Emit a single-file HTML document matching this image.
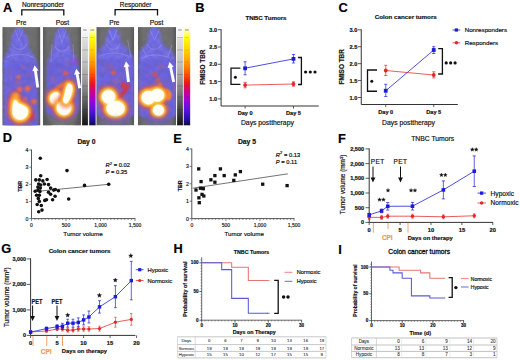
<!DOCTYPE html>
<html><head><meta charset="utf-8"><style>
html,body{margin:0;padding:0;background:#fff;width:520px;height:360px;overflow:hidden}
svg{display:block}
text{font-family:"Liberation Sans",sans-serif;stroke:currentColor;stroke-width:0.18px}
</style></head><body>
<svg width="520" height="360" viewBox="0 0 520 360">
<rect width="520" height="360" fill="#fff"/>
<defs>
<filter id="b3" x="-50%" y="-50%" width="200%" height="200%"><feGaussianBlur stdDeviation="3"/></filter>
<filter id="b2" x="-50%" y="-50%" width="200%" height="200%"><feGaussianBlur stdDeviation="2"/></filter>
<filter id="b15" x="-50%" y="-50%" width="200%" height="200%"><feGaussianBlur stdDeviation="1.5"/></filter>
<filter id="b1" x="-50%" y="-50%" width="200%" height="200%"><feGaussianBlur stdDeviation="1.0"/></filter>
<filter id="b07" x="-50%" y="-50%" width="200%" height="200%"><feGaussianBlur stdDeviation="0.7"/></filter>
<filter id="b05" x="-50%" y="-50%" width="200%" height="200%"><feGaussianBlur stdDeviation="0.5"/></filter>
<filter id="mott" x="0" y="0" width="520" height="360" filterUnits="userSpaceOnUse"><feTurbulence type="fractalNoise" baseFrequency="0.2" numOctaves="2" seed="7" result="n"/><feColorMatrix in="n" type="matrix" values="0 0 0 0 0  0 0 0 0 0  0 0 0 0 0  2.2 0 0 0 -0.55" result="na"/><feGaussianBlur in="SourceGraphic" stdDeviation="1.4" result="bl"/><feComposite in="bl" in2="na" operator="in"/></filter>
<filter id="mott2" x="0" y="0" width="520" height="360" filterUnits="userSpaceOnUse"><feTurbulence type="fractalNoise" baseFrequency="0.22" numOctaves="2" seed="21" result="n"/><feColorMatrix in="n" type="matrix" values="0 0 0 0 0  0 0 0 0 0  0 0 0 0 0  2.4 0 0 0 -0.8" result="na"/><feComposite in="SourceGraphic" in2="na" operator="in" result="c"/><feGaussianBlur in="c" stdDeviation="0.8"/></filter>
<filter id="mott3" x="0" y="0" width="520" height="360" filterUnits="userSpaceOnUse"><feTurbulence type="fractalNoise" baseFrequency="0.14" numOctaves="1" seed="11" result="n"/><feColorMatrix in="n" type="matrix" values="0 0 0 0 0  0 0 0 0 0  0 0 0 0 0  3.0 0 0 0 -1.7" result="na"/><feComposite in="SourceGraphic" in2="na" operator="in" result="c"/><feGaussianBlur in="c" stdDeviation="0.9"/></filter>
<linearGradient id="cbar" x1="0" y1="0" x2="0" y2="1">
<stop offset="0" stop-color="#ffffe8"/><stop offset="0.05" stop-color="#ffffa0"/><stop offset="0.1" stop-color="#ffff10"/><stop offset="0.22" stop-color="#ffd800"/>
<stop offset="0.35" stop-color="#ffa000"/><stop offset="0.47" stop-color="#ff5800"/><stop offset="0.56" stop-color="#f01818"/>
<stop offset="0.65" stop-color="#d00080"/><stop offset="0.74" stop-color="#a000d8"/><stop offset="0.84" stop-color="#6010e0"/>
<stop offset="0.93" stop-color="#2810a8"/><stop offset="1" stop-color="#100850"/></linearGradient>
<linearGradient id="gbar" x1="0" y1="0" x2="0" y2="1">
<stop offset="0" stop-color="#fafafa"/><stop offset="0.1" stop-color="#f0f0f0"/><stop offset="0.12" stop-color="#dedede"/><stop offset="0.35" stop-color="#c4c4c4"/>
<stop offset="0.6" stop-color="#8c8c8c"/><stop offset="0.8" stop-color="#505050"/><stop offset="1" stop-color="#141414"/></linearGradient>
<linearGradient id="petbg" x1="0" y1="0" x2="1" y2="0">
<stop offset="0" stop-color="#5e5e5e"/><stop offset="0.12" stop-color="#707070"/><stop offset="0.5" stop-color="#787878"/><stop offset="0.88" stop-color="#707070"/><stop offset="1" stop-color="#585858"/></linearGradient>
</defs>
<clipPath id="c0"><rect x="2.3" y="27.1" width="38.1" height="98.3"/></clipPath>
<clipPath id="c1"><rect x="42.9" y="27.1" width="38.35" height="98.3"/></clipPath>
<clipPath id="c2"><rect x="96.25" y="27.1" width="37.95" height="98.3"/></clipPath>
<clipPath id="c3"><rect x="137.9" y="27.1" width="38.35" height="98.3"/></clipPath>
<g clip-path="url(#c0)">
<rect x="2.3" y="27.1" width="38.1" height="98.3" fill="url(#petbg)"/>
<path d="M19,27 C15,28 12,34 11,42 C10,48 8,52 5,56 C3,60 3,66 4,70 L4,126 L37,126 L37,70 C37,64 36,58 33,55 C30,52 29,48 28,42 C27,34 23,28 19,27Z" fill="#6e66f6" opacity="0.88" filter="url(#b15)"/>
<path d="M6,64 C12,60 28,60 37,64 L37,126 L6,126Z" fill="#7468e4" opacity="0.7" filter="url(#b3)"/>
<path d="M19,27 C15,28 12,34 11,42 C10,48 8,52 5,56 C3,60 3,66 4,70 L4,126 L37,126 L37,70 C37,64 36,58 33,55 C30,52 29,48 28,42 C27,34 23,28 19,27Z" fill="#8c88ff" opacity="0.45" filter="url(#mott)"/>
<path d="M6,64 C12,60 28,60 37,64 L37,126 L6,126Z" fill="#5048d8" opacity="0.4" filter="url(#mott)"/>
<path d="M15,30 L19,40 L23,30 M12,44 C15,51 23,51 27,44 M6,58 C13,53 26,53 34,58" fill="none" stroke="#a8a6ff" stroke-width="1.1" opacity="0.4" filter="url(#b07)"/>
<path d="M6,64 C12,60 28,60 37,64 L37,126 L6,126Z" fill="#ff6a40" opacity="0.5" filter="url(#mott3)"/>
<rect x="0" y="27" width="200" height="100" fill="#505058" opacity="0.22" filter="url(#mott2)"/>
<circle cx="14" cy="95" r="2.6" fill="#ff9a30" opacity="0.7" filter="url(#b1)"/>
<circle cx="19.7" cy="89.6" r="2.6" fill="#ff6a30" opacity="0.9" filter="url(#b1)"/>
<circle cx="27.6" cy="88.6" r="2.8" fill="#ff6a30" opacity="0.9" filter="url(#b1)"/>
<circle cx="25.3" cy="99.2" r="1.9" fill="#ff6a40" opacity="0.8" filter="url(#b1)"/>
<circle cx="33.9" cy="101.5" r="2.6" fill="#ff6a30" opacity="0.9" filter="url(#b1)"/>
<circle cx="18.5" cy="77" r="2.2" fill="#ff6a30" opacity="0.8" filter="url(#b1)"/>
<circle cx="10" cy="90" r="2" fill="#c060a0" opacity="0.5" filter="url(#b1)"/>
<ellipse cx="31" cy="116" rx="3" ry="4" fill="#e02030" opacity="0.75" filter="url(#b1)"/>
<ellipse cx="15" cy="100" rx="6.300000000000001" ry="9.1" fill="#f05a28" opacity="0.75" transform="rotate(15 15 100)" filter="url(#b15)"/>
<ellipse cx="15" cy="100" rx="4.2" ry="7" fill="#ffc040" transform="rotate(15 15 100)" filter="url(#b1)"/>
<ellipse cx="15" cy="100" rx="2.1" ry="4.2" fill="#fff080" transform="rotate(15 15 100)" filter="url(#b07)"/>
<path d="M14,101 C15,99 17,101 18,103 C20,105 25,105 27.5,109 C29,113 27,118.5 21,119.5 C15,120 12.5,116 12.5,111 C12.5,107 13,103 14,101Z" fill="#e84a38" stroke="#e85038" stroke-width="11.25" opacity="0.55" filter="url(#b2)"/>
<path d="M14,101 C15,99 17,101 18,103 C20,105 25,105 27.5,109 C29,113 27,118.5 21,119.5 C15,120 12.5,116 12.5,111 C12.5,107 13,103 14,101Z" fill="#ff8a20" stroke="#ff9020" stroke-width="6.75" opacity="0.95" filter="url(#b15)"/>
<path d="M14,101 C15,99 17,101 18,103 C20,105 25,105 27.5,109 C29,113 27,118.5 21,119.5 C15,120 12.5,116 12.5,111 C12.5,107 13,103 14,101Z" fill="#ffd850" stroke="#ffd850" stroke-width="3.375" filter="url(#b1)"/>
<path d="M14,101 C15,99 17,101 18,103 C20,105 25,105 27.5,109 C29,113 27,118.5 21,119.5 C15,120 12.5,116 12.5,111 C12.5,107 13,103 14,101Z" fill="#fffff8" stroke="#fffff0" stroke-width="0.6" filter="url(#b07)"/>
<polygon points="39.24,87.29 36.83,70.64 38.47,70.40 34.60,65.30 32.33,71.28 33.96,71.05 36.36,87.71" fill="#fbfbfb" filter="url(#b05)"/>
</g>
<g clip-path="url(#c1)">
<rect x="42.9" y="27.1" width="38.35" height="98.3" fill="url(#petbg)"/>
<path d="M62,27 C58,28 55,34 54,42 C53,48 52,52 50,56 C48,60 48,66 48,70 L47,112 C54,120 72,120 78,112 L78,70 C78,64 76,58 74,55 C72,52 71,48 70,42 C69,34 66,28 62,27Z" fill="#6e66f6" opacity="0.88" filter="url(#b15)"/>
<path d="M48,64 C55,60 70,60 78,64 L78,112 C72,120 54,120 47,112Z" fill="#7468e4" opacity="0.7" filter="url(#b3)"/>
<path d="M62,27 C58,28 55,34 54,42 C53,48 52,52 50,56 C48,60 48,66 48,70 L47,112 C54,120 72,120 78,112 L78,70 C78,64 76,58 74,55 C72,52 71,48 70,42 C69,34 66,28 62,27Z" fill="#8c88ff" opacity="0.45" filter="url(#mott)"/>
<path d="M48,64 C55,60 70,60 78,64 L78,112 C72,120 54,120 47,112Z" fill="#5048d8" opacity="0.4" filter="url(#mott)"/>
<path d="M58,30 L62,42 L66,30 M55,46 C58,53 66,53 69,46 M52,44 L51,62 M73,44 L74,62" fill="none" stroke="#a8a6ff" stroke-width="1.1" opacity="0.4" filter="url(#b07)"/>
<path d="M48,64 C55,60 70,60 78,64 L78,112 C72,120 54,120 47,112Z" fill="#ff6a40" opacity="0.5" filter="url(#mott3)"/>
<rect x="0" y="27" width="200" height="100" fill="#505058" opacity="0.22" filter="url(#mott2)"/>
<circle cx="75.3" cy="61.2" r="3.2" fill="#a040c8" opacity="0.6" filter="url(#b1)"/>
<circle cx="65.7" cy="73.2" r="2.3" fill="#ff5a20" opacity="0.85" filter="url(#b1)"/>
<path d="M55,93 C56,88 62,84 70,83" stroke="#ff7a28" stroke-width="4" fill="none" opacity="0.85" filter="url(#b1)"/>
<path d="M61.90,98.50 L61.70,100.03 L61.11,101.45 L60.17,102.67 L58.95,103.61 L57.53,104.20 L56.00,104.40 L54.47,104.20 L53.05,103.61 L51.83,102.67 L50.89,101.45 L50.30,100.03 L50.10,98.50 L50.30,96.97 L50.89,95.55 L51.83,94.33 L53.05,93.39 L54.47,92.80 L56.00,92.60 L57.53,92.80 L58.95,93.39 L60.17,94.33 L61.11,95.55 L61.70,96.97Z" fill="#e84a38" stroke="#e85038" stroke-width="10.0" opacity="0.55" filter="url(#b2)"/>
<path d="M61.90,98.50 L61.70,100.03 L61.11,101.45 L60.17,102.67 L58.95,103.61 L57.53,104.20 L56.00,104.40 L54.47,104.20 L53.05,103.61 L51.83,102.67 L50.89,101.45 L50.30,100.03 L50.10,98.50 L50.30,96.97 L50.89,95.55 L51.83,94.33 L53.05,93.39 L54.47,92.80 L56.00,92.60 L57.53,92.80 L58.95,93.39 L60.17,94.33 L61.11,95.55 L61.70,96.97Z" fill="#ff8a20" stroke="#ff9020" stroke-width="6.0" opacity="0.95" filter="url(#b15)"/>
<path d="M61.90,98.50 L61.70,100.03 L61.11,101.45 L60.17,102.67 L58.95,103.61 L57.53,104.20 L56.00,104.40 L54.47,104.20 L53.05,103.61 L51.83,102.67 L50.89,101.45 L50.30,100.03 L50.10,98.50 L50.30,96.97 L50.89,95.55 L51.83,94.33 L53.05,93.39 L54.47,92.80 L56.00,92.60 L57.53,92.80 L58.95,93.39 L60.17,94.33 L61.11,95.55 L61.70,96.97Z" fill="#ffd850" stroke="#ffd850" stroke-width="3.0" filter="url(#b1)"/>
<path d="M61.90,98.50 L61.70,100.03 L61.11,101.45 L60.17,102.67 L58.95,103.61 L57.53,104.20 L56.00,104.40 L54.47,104.20 L53.05,103.61 L51.83,102.67 L50.89,101.45 L50.30,100.03 L50.10,98.50 L50.30,96.97 L50.89,95.55 L51.83,94.33 L53.05,93.39 L54.47,92.80 L56.00,92.60 L57.53,92.80 L58.95,93.39 L60.17,94.33 L61.11,95.55 L61.70,96.97Z" fill="#fffff8" stroke="#fffff0" stroke-width="0.6" filter="url(#b07)"/>
<path d="M71.10,107.80 L70.86,109.64 L70.15,111.35 L69.02,112.82 L67.55,113.95 L65.84,114.66 L64.00,114.90 L62.16,114.66 L60.45,113.95 L58.98,112.82 L57.85,111.35 L57.14,109.64 L56.90,107.80 L57.14,105.96 L57.85,104.25 L58.98,102.78 L60.45,101.65 L62.16,100.94 L64.00,100.70 L65.84,100.94 L67.55,101.65 L69.02,102.78 L70.15,104.25 L70.86,105.96Z" fill="#e84a38" stroke="#e85038" stroke-width="10.0" opacity="0.55" filter="url(#b2)"/>
<path d="M71.10,107.80 L70.86,109.64 L70.15,111.35 L69.02,112.82 L67.55,113.95 L65.84,114.66 L64.00,114.90 L62.16,114.66 L60.45,113.95 L58.98,112.82 L57.85,111.35 L57.14,109.64 L56.90,107.80 L57.14,105.96 L57.85,104.25 L58.98,102.78 L60.45,101.65 L62.16,100.94 L64.00,100.70 L65.84,100.94 L67.55,101.65 L69.02,102.78 L70.15,104.25 L70.86,105.96Z" fill="#ff8a20" stroke="#ff9020" stroke-width="6.0" opacity="0.95" filter="url(#b15)"/>
<path d="M71.10,107.80 L70.86,109.64 L70.15,111.35 L69.02,112.82 L67.55,113.95 L65.84,114.66 L64.00,114.90 L62.16,114.66 L60.45,113.95 L58.98,112.82 L57.85,111.35 L57.14,109.64 L56.90,107.80 L57.14,105.96 L57.85,104.25 L58.98,102.78 L60.45,101.65 L62.16,100.94 L64.00,100.70 L65.84,100.94 L67.55,101.65 L69.02,102.78 L70.15,104.25 L70.86,105.96Z" fill="#ffd850" stroke="#ffd850" stroke-width="3.0" filter="url(#b1)"/>
<path d="M71.10,107.80 L70.86,109.64 L70.15,111.35 L69.02,112.82 L67.55,113.95 L65.84,114.66 L64.00,114.90 L62.16,114.66 L60.45,113.95 L58.98,112.82 L57.85,111.35 L57.14,109.64 L56.90,107.80 L57.14,105.96 L57.85,104.25 L58.98,102.78 L60.45,101.65 L62.16,100.94 L64.00,100.70 L65.84,100.94 L67.55,101.65 L69.02,102.78 L70.15,104.25 L70.86,105.96Z" fill="#fffff8" stroke="#fffff0" stroke-width="0.6" filter="url(#b07)"/>
<ellipse cx="68" cy="92" rx="5.4" ry="11.05" fill="#f05a28" opacity="0.75" transform="rotate(20 68 92)" filter="url(#b15)"/>
<ellipse cx="68" cy="92" rx="3.6" ry="8.5" fill="#ffc040" transform="rotate(20 68 92)" filter="url(#b1)"/>
<ellipse cx="68" cy="92" rx="1.8" ry="5.1" fill="#fff080" transform="rotate(20 68 92)" filter="url(#b07)"/>
<path d="M68,84 C72,83 73,88 72,92 C71,96 69.5,100 67,103 C65,104 62.5,102 63.5,99 C65,94 65.5,88 68,84Z" fill="#e84a38" stroke="#e85038" stroke-width="9.375" opacity="0.55" filter="url(#b2)"/>
<path d="M68,84 C72,83 73,88 72,92 C71,96 69.5,100 67,103 C65,104 62.5,102 63.5,99 C65,94 65.5,88 68,84Z" fill="#ff8a20" stroke="#ff9020" stroke-width="5.625" opacity="0.95" filter="url(#b15)"/>
<path d="M68,84 C72,83 73,88 72,92 C71,96 69.5,100 67,103 C65,104 62.5,102 63.5,99 C65,94 65.5,88 68,84Z" fill="#ffd850" stroke="#ffd850" stroke-width="2.8125" filter="url(#b1)"/>
<path d="M68,84 C72,83 73,88 72,92 C71,96 69.5,100 67,103 C65,104 62.5,102 63.5,99 C65,94 65.5,88 68,84Z" fill="#fffff8" stroke="#fffff0" stroke-width="0.6" filter="url(#b07)"/>
<path d="M43,110 L52,126 L43,126Z M81,108 L74,126 L81,126Z" fill="#505050" opacity="0.6" filter="url(#b15)"/>
<polygon points="81.13,88.05 78.61,73.96 80.24,73.67 76.20,68.70 74.13,74.76 75.76,74.47 78.27,88.55" fill="#fbfbfb" filter="url(#b05)"/>
</g>
<g clip-path="url(#c2)">
<rect x="96.25" y="27.1" width="37.95" height="98.3" fill="url(#petbg)"/>
<path d="M113,27 C109,28 106,34 106,41 C104,46 100,48 98,52 C97,56 97,62 97,66 L97,114 C106,121 126,121 134,114 L134,66 C134,60 132,55 130,52 C127,48 122,46 121,41 C120,34 117,28 113,27Z" fill="#6e66f6" opacity="0.9" filter="url(#b15)"/>
<path d="M99,62 C106,58 124,58 133,62 L133,114 C126,121 106,121 99,114Z" fill="#7468e4" opacity="0.74" filter="url(#b3)"/>
<path d="M113,27 C109,28 106,34 106,41 C104,46 100,48 98,52 C97,56 97,62 97,66 L97,114 C106,121 126,121 134,114 L134,66 C134,60 132,55 130,52 C127,48 122,46 121,41 C120,34 117,28 113,27Z" fill="#8c88ff" opacity="0.45" filter="url(#mott)"/>
<path d="M99,62 C106,58 124,58 133,62 L133,114 C126,121 106,121 99,114Z" fill="#5048d8" opacity="0.4" filter="url(#mott)"/>
<path d="M109,30 L113,40 L117,30 M106,44 C109,51 117,51 120,44 M127.7,40.3 L131,57 M100,56 C108,52 120,52 128,56" fill="none" stroke="#a8a6ff" stroke-width="1.1" opacity="0.4" filter="url(#b07)"/>
<path d="M99,62 C106,58 124,58 133,62 L133,114 C126,121 106,121 99,114Z" fill="#ff6a40" opacity="0.5" filter="url(#mott3)"/>
<rect x="0" y="27" width="200" height="100" fill="#505058" opacity="0.22" filter="url(#mott2)"/>
<circle cx="113.5" cy="72.8" r="2.4" fill="#ff5a20" opacity="0.85" filter="url(#b1)"/>
<path d="M128.6,84 C127,90 123,94 119.6,96.6" stroke="#f02a20" stroke-width="3.2" fill="none" opacity="0.85" filter="url(#b1)"/>
<circle cx="123.5" cy="86.4" r="2.6" fill="#f03020" opacity="0.85" filter="url(#b1)"/>
<circle cx="123.5" cy="83.7" r="2.2" fill="#f03020" opacity="0.7" filter="url(#b1)"/>
<path d="M115.10,96.80 L114.88,98.51 L114.22,100.10 L113.17,101.47 L111.80,102.52 L110.21,103.18 L108.50,103.40 L106.79,103.18 L105.20,102.52 L103.83,101.47 L102.78,100.10 L102.12,98.51 L101.90,96.80 L102.12,95.09 L102.78,93.50 L103.83,92.13 L105.20,91.08 L106.79,90.42 L108.50,90.20 L110.21,90.42 L111.80,91.08 L113.17,92.13 L114.22,93.50 L114.88,95.09Z" fill="#e84a38" stroke="#e85038" stroke-width="10.625" opacity="0.55" filter="url(#b2)"/>
<path d="M124.50,108.50 L124.19,110.47 L123.29,112.30 L121.86,113.87 L120.00,115.08 L117.83,115.84 L115.50,116.10 L113.17,115.84 L111.00,115.08 L109.14,113.87 L107.71,112.30 L106.81,110.47 L106.50,108.50 L106.81,106.53 L107.71,104.70 L109.14,103.13 L111.00,101.92 L113.17,101.16 L115.50,100.90 L117.83,101.16 L120.00,101.92 L121.86,103.13 L123.29,104.70 L124.19,106.53Z" fill="#e84a38" stroke="#e85038" stroke-width="10.625" opacity="0.55" filter="url(#b2)"/>
<path d="M115.10,96.80 L114.88,98.51 L114.22,100.10 L113.17,101.47 L111.80,102.52 L110.21,103.18 L108.50,103.40 L106.79,103.18 L105.20,102.52 L103.83,101.47 L102.78,100.10 L102.12,98.51 L101.90,96.80 L102.12,95.09 L102.78,93.50 L103.83,92.13 L105.20,91.08 L106.79,90.42 L108.50,90.20 L110.21,90.42 L111.80,91.08 L113.17,92.13 L114.22,93.50 L114.88,95.09Z" fill="#ff8a20" stroke="#ff9020" stroke-width="6.375" opacity="0.95" filter="url(#b15)"/>
<path d="M124.50,108.50 L124.19,110.47 L123.29,112.30 L121.86,113.87 L120.00,115.08 L117.83,115.84 L115.50,116.10 L113.17,115.84 L111.00,115.08 L109.14,113.87 L107.71,112.30 L106.81,110.47 L106.50,108.50 L106.81,106.53 L107.71,104.70 L109.14,103.13 L111.00,101.92 L113.17,101.16 L115.50,100.90 L117.83,101.16 L120.00,101.92 L121.86,103.13 L123.29,104.70 L124.19,106.53Z" fill="#ff8a20" stroke="#ff9020" stroke-width="6.375" opacity="0.95" filter="url(#b15)"/>
<path d="M115.10,96.80 L114.88,98.51 L114.22,100.10 L113.17,101.47 L111.80,102.52 L110.21,103.18 L108.50,103.40 L106.79,103.18 L105.20,102.52 L103.83,101.47 L102.78,100.10 L102.12,98.51 L101.90,96.80 L102.12,95.09 L102.78,93.50 L103.83,92.13 L105.20,91.08 L106.79,90.42 L108.50,90.20 L110.21,90.42 L111.80,91.08 L113.17,92.13 L114.22,93.50 L114.88,95.09Z" fill="#ffd850" stroke="#ffd850" stroke-width="3.1875" filter="url(#b1)"/>
<path d="M124.50,108.50 L124.19,110.47 L123.29,112.30 L121.86,113.87 L120.00,115.08 L117.83,115.84 L115.50,116.10 L113.17,115.84 L111.00,115.08 L109.14,113.87 L107.71,112.30 L106.81,110.47 L106.50,108.50 L106.81,106.53 L107.71,104.70 L109.14,103.13 L111.00,101.92 L113.17,101.16 L115.50,100.90 L117.83,101.16 L120.00,101.92 L121.86,103.13 L123.29,104.70 L124.19,106.53Z" fill="#ffd850" stroke="#ffd850" stroke-width="3.1875" filter="url(#b1)"/>
<path d="M115.10,96.80 L114.88,98.51 L114.22,100.10 L113.17,101.47 L111.80,102.52 L110.21,103.18 L108.50,103.40 L106.79,103.18 L105.20,102.52 L103.83,101.47 L102.78,100.10 L102.12,98.51 L101.90,96.80 L102.12,95.09 L102.78,93.50 L103.83,92.13 L105.20,91.08 L106.79,90.42 L108.50,90.20 L110.21,90.42 L111.80,91.08 L113.17,92.13 L114.22,93.50 L114.88,95.09Z" fill="#fffff8" stroke="#fffff0" stroke-width="0.6" filter="url(#b07)"/>
<path d="M124.50,108.50 L124.19,110.47 L123.29,112.30 L121.86,113.87 L120.00,115.08 L117.83,115.84 L115.50,116.10 L113.17,115.84 L111.00,115.08 L109.14,113.87 L107.71,112.30 L106.81,110.47 L106.50,108.50 L106.81,106.53 L107.71,104.70 L109.14,103.13 L111.00,101.92 L113.17,101.16 L115.50,100.90 L117.83,101.16 L120.00,101.92 L121.86,103.13 L123.29,104.70 L124.19,106.53Z" fill="#fffff8" stroke="#fffff0" stroke-width="0.6" filter="url(#b07)"/>
<ellipse cx="116" cy="121" rx="14" ry="4" fill="#6a5ad0" opacity="0.45" filter="url(#b2)"/>
<polygon points="129.94,81.83 128.11,66.59 129.75,66.39 126.00,61.20 123.59,67.13 125.23,66.93 127.06,82.17" fill="#fbfbfb" filter="url(#b05)"/>
</g>
<g clip-path="url(#c3)">
<rect x="137.9" y="27.1" width="38.35" height="98.3" fill="url(#petbg)"/>
<path d="M154.5,27 C150,28 148,34 148,41 C146,46 142,48 140,52 C139,56 139,62 139,66 L139,114 C148,121 168,121 176,114 L176,66 C176,60 174,55 172,52 C169,48 163,46 161,41 C161,34 159,28 154.5,27Z" fill="#6e66f6" opacity="0.9" filter="url(#b15)"/>
<path d="M141,62 C148,58 166,58 175,62 L175,114 C168,121 148,121 141,114Z" fill="#7468e4" opacity="0.74" filter="url(#b3)"/>
<path d="M154.5,27 C150,28 148,34 148,41 C146,46 142,48 140,52 C139,56 139,62 139,66 L139,114 C148,121 168,121 176,114 L176,66 C176,60 174,55 172,52 C169,48 163,46 161,41 C161,34 159,28 154.5,27Z" fill="#8c88ff" opacity="0.45" filter="url(#mott)"/>
<path d="M141,62 C148,58 166,58 175,62 L175,114 C168,121 148,121 141,114Z" fill="#5048d8" opacity="0.4" filter="url(#mott)"/>
<path d="M150,30 L154.5,40 L159,30 M147,44 C150,51 158,51 162,44 M142,47 L147,57 M172,45.3 L167.8,57 M143,58 C150,54 160,54 170,58" fill="none" stroke="#a8a6ff" stroke-width="1.1" opacity="0.4" filter="url(#b07)"/>
<path d="M141,62 C148,58 166,58 175,62 L175,114 C168,121 148,121 141,114Z" fill="#ff6a40" opacity="0.5" filter="url(#mott3)"/>
<rect x="0" y="27" width="200" height="100" fill="#505058" opacity="0.22" filter="url(#mott2)"/>
<circle cx="155.3" cy="74.5" r="2.2" fill="#f04a30" opacity="0.85" filter="url(#b1)"/>
<circle cx="157.8" cy="80.3" r="2.2" fill="#f05a20" opacity="0.85" filter="url(#b1)"/>
<circle cx="160" cy="85.1" r="2.2" fill="#ff8020" opacity="0.85" filter="url(#b1)"/>
<circle cx="146" cy="91" r="2.6" fill="#ff9a30" opacity="0.8" filter="url(#b1)"/>
<circle cx="153" cy="90" r="2.4" fill="#ff9a30" opacity="0.8" filter="url(#b1)"/>
<circle cx="165.7" cy="94" r="3.8" fill="#e03020" stroke="#ff9a20" stroke-width="2.6" filter="url(#b1)"/>
<ellipse cx="168" cy="96" rx="3" ry="4.5" fill="#ff9a30" opacity="0.9" filter="url(#b1)"/>
<path d="M155.30,97.60 L155.07,99.31 L154.39,100.90 L153.31,102.27 L151.90,103.32 L150.26,103.98 L148.50,104.20 L146.74,103.98 L145.10,103.32 L143.69,102.27 L142.61,100.90 L141.93,99.31 L141.70,97.60 L141.93,95.89 L142.61,94.30 L143.69,92.93 L145.10,91.88 L146.74,91.22 L148.50,91.00 L150.26,91.22 L151.90,91.88 L153.31,92.93 L154.39,94.30 L155.07,95.89Z" fill="#e84a38" stroke="#e85038" stroke-width="10.0" opacity="0.55" filter="url(#b2)"/>
<path d="M164.00,95.20 L163.78,96.80 L163.12,98.30 L162.07,99.58 L160.70,100.57 L159.11,101.19 L157.40,101.40 L155.69,101.19 L154.10,100.57 L152.73,99.58 L151.68,98.30 L151.02,96.80 L150.80,95.20 L151.02,93.60 L151.68,92.10 L152.73,90.82 L154.10,89.83 L155.69,89.21 L157.40,89.00 L159.11,89.21 L160.70,89.83 L162.07,90.82 L163.12,92.10 L163.78,93.60Z" fill="#e84a38" stroke="#e85038" stroke-width="10.0" opacity="0.55" filter="url(#b2)"/>
<path d="M163.70,110.20 L163.52,111.57 L162.99,112.85 L162.15,113.95 L161.05,114.79 L159.77,115.32 L158.40,115.50 L157.03,115.32 L155.75,114.79 L154.65,113.95 L153.81,112.85 L153.28,111.57 L153.10,110.20 L153.28,108.83 L153.81,107.55 L154.65,106.45 L155.75,105.61 L157.03,105.08 L158.40,104.90 L159.77,105.08 L161.05,105.61 L162.15,106.45 L162.99,107.55 L163.52,108.83Z" fill="#e84a38" stroke="#e85038" stroke-width="9.375" opacity="0.55" filter="url(#b2)"/>
<path d="M155.30,97.60 L155.07,99.31 L154.39,100.90 L153.31,102.27 L151.90,103.32 L150.26,103.98 L148.50,104.20 L146.74,103.98 L145.10,103.32 L143.69,102.27 L142.61,100.90 L141.93,99.31 L141.70,97.60 L141.93,95.89 L142.61,94.30 L143.69,92.93 L145.10,91.88 L146.74,91.22 L148.50,91.00 L150.26,91.22 L151.90,91.88 L153.31,92.93 L154.39,94.30 L155.07,95.89Z" fill="#ff8a20" stroke="#ff9020" stroke-width="6.0" opacity="0.95" filter="url(#b15)"/>
<path d="M164.00,95.20 L163.78,96.80 L163.12,98.30 L162.07,99.58 L160.70,100.57 L159.11,101.19 L157.40,101.40 L155.69,101.19 L154.10,100.57 L152.73,99.58 L151.68,98.30 L151.02,96.80 L150.80,95.20 L151.02,93.60 L151.68,92.10 L152.73,90.82 L154.10,89.83 L155.69,89.21 L157.40,89.00 L159.11,89.21 L160.70,89.83 L162.07,90.82 L163.12,92.10 L163.78,93.60Z" fill="#ff8a20" stroke="#ff9020" stroke-width="6.0" opacity="0.95" filter="url(#b15)"/>
<path d="M163.70,110.20 L163.52,111.57 L162.99,112.85 L162.15,113.95 L161.05,114.79 L159.77,115.32 L158.40,115.50 L157.03,115.32 L155.75,114.79 L154.65,113.95 L153.81,112.85 L153.28,111.57 L153.10,110.20 L153.28,108.83 L153.81,107.55 L154.65,106.45 L155.75,105.61 L157.03,105.08 L158.40,104.90 L159.77,105.08 L161.05,105.61 L162.15,106.45 L162.99,107.55 L163.52,108.83Z" fill="#ff8a20" stroke="#ff9020" stroke-width="5.625" opacity="0.95" filter="url(#b15)"/>
<path d="M155.30,97.60 L155.07,99.31 L154.39,100.90 L153.31,102.27 L151.90,103.32 L150.26,103.98 L148.50,104.20 L146.74,103.98 L145.10,103.32 L143.69,102.27 L142.61,100.90 L141.93,99.31 L141.70,97.60 L141.93,95.89 L142.61,94.30 L143.69,92.93 L145.10,91.88 L146.74,91.22 L148.50,91.00 L150.26,91.22 L151.90,91.88 L153.31,92.93 L154.39,94.30 L155.07,95.89Z" fill="#ffd850" stroke="#ffd850" stroke-width="3.0" filter="url(#b1)"/>
<path d="M164.00,95.20 L163.78,96.80 L163.12,98.30 L162.07,99.58 L160.70,100.57 L159.11,101.19 L157.40,101.40 L155.69,101.19 L154.10,100.57 L152.73,99.58 L151.68,98.30 L151.02,96.80 L150.80,95.20 L151.02,93.60 L151.68,92.10 L152.73,90.82 L154.10,89.83 L155.69,89.21 L157.40,89.00 L159.11,89.21 L160.70,89.83 L162.07,90.82 L163.12,92.10 L163.78,93.60Z" fill="#ffd850" stroke="#ffd850" stroke-width="3.0" filter="url(#b1)"/>
<path d="M163.70,110.20 L163.52,111.57 L162.99,112.85 L162.15,113.95 L161.05,114.79 L159.77,115.32 L158.40,115.50 L157.03,115.32 L155.75,114.79 L154.65,113.95 L153.81,112.85 L153.28,111.57 L153.10,110.20 L153.28,108.83 L153.81,107.55 L154.65,106.45 L155.75,105.61 L157.03,105.08 L158.40,104.90 L159.77,105.08 L161.05,105.61 L162.15,106.45 L162.99,107.55 L163.52,108.83Z" fill="#ffd850" stroke="#ffd850" stroke-width="2.8125" filter="url(#b1)"/>
<path d="M155.30,97.60 L155.07,99.31 L154.39,100.90 L153.31,102.27 L151.90,103.32 L150.26,103.98 L148.50,104.20 L146.74,103.98 L145.10,103.32 L143.69,102.27 L142.61,100.90 L141.93,99.31 L141.70,97.60 L141.93,95.89 L142.61,94.30 L143.69,92.93 L145.10,91.88 L146.74,91.22 L148.50,91.00 L150.26,91.22 L151.90,91.88 L153.31,92.93 L154.39,94.30 L155.07,95.89Z" fill="#fffff8" stroke="#fffff0" stroke-width="0.6" filter="url(#b07)"/>
<path d="M164.00,95.20 L163.78,96.80 L163.12,98.30 L162.07,99.58 L160.70,100.57 L159.11,101.19 L157.40,101.40 L155.69,101.19 L154.10,100.57 L152.73,99.58 L151.68,98.30 L151.02,96.80 L150.80,95.20 L151.02,93.60 L151.68,92.10 L152.73,90.82 L154.10,89.83 L155.69,89.21 L157.40,89.00 L159.11,89.21 L160.70,89.83 L162.07,90.82 L163.12,92.10 L163.78,93.60Z" fill="#fffff8" stroke="#fffff0" stroke-width="0.6" filter="url(#b07)"/>
<path d="M163.70,110.20 L163.52,111.57 L162.99,112.85 L162.15,113.95 L161.05,114.79 L159.77,115.32 L158.40,115.50 L157.03,115.32 L155.75,114.79 L154.65,113.95 L153.81,112.85 L153.28,111.57 L153.10,110.20 L153.28,108.83 L153.81,107.55 L154.65,106.45 L155.75,105.61 L157.03,105.08 L158.40,104.90 L159.77,105.08 L161.05,105.61 L162.15,106.45 L162.99,107.55 L163.52,108.83Z" fill="#fffff8" stroke="#fffff0" stroke-width="0.6" filter="url(#b07)"/>
<ellipse cx="158" cy="121" rx="14" ry="4" fill="#6a5ad0" opacity="0.45" filter="url(#b2)"/>
<polygon points="175.12,81.70 172.07,67.18 173.68,66.84 169.50,62.00 167.62,68.12 169.23,67.78 172.28,82.30" fill="#fbfbfb" filter="url(#b05)"/>
</g>
<rect x="81.3" y="27.1" width="14.900000000000015" height="98.3" fill="#f8f8f8"/>
<rect x="82.1" y="27.3" width="5.8" height="98" fill="url(#gbar)"/>
<rect x="89.2" y="27.3" width="6.4" height="98" fill="url(#cbar)"/>
<rect x="83.1" y="29.2" width="3.6" height="1.6" fill="#999" opacity="0.7"/><rect x="90.4" y="29.2" width="3.8" height="1.6" fill="#999" opacity="0.7"/>
<line x1="82.1" y1="37.5" x2="87.89999999999999" y2="37.5" stroke="#222" stroke-width="0.5" opacity="0.45"/>
<line x1="90.7" y1="37.5" x2="93.7" y2="37.5" stroke="#222" stroke-width="0.4" opacity="0.35"/>
<line x1="82.1" y1="50" x2="87.89999999999999" y2="50" stroke="#222" stroke-width="0.5" opacity="0.45"/>
<line x1="90.7" y1="50" x2="93.7" y2="50" stroke="#222" stroke-width="0.4" opacity="0.35"/>
<line x1="82.1" y1="62" x2="87.89999999999999" y2="62" stroke="#222" stroke-width="0.5" opacity="0.45"/>
<line x1="90.7" y1="62" x2="93.7" y2="62" stroke="#222" stroke-width="0.4" opacity="0.35"/>
<line x1="82.1" y1="74.6" x2="87.89999999999999" y2="74.6" stroke="#222" stroke-width="0.5" opacity="0.45"/>
<line x1="90.7" y1="74.6" x2="93.7" y2="74.6" stroke="#222" stroke-width="0.4" opacity="0.35"/>
<line x1="82.1" y1="86" x2="87.89999999999999" y2="86" stroke="#222" stroke-width="0.5" opacity="0.45"/>
<line x1="90.7" y1="86" x2="93.7" y2="86" stroke="#222" stroke-width="0.4" opacity="0.35"/>
<line x1="82.1" y1="97" x2="87.89999999999999" y2="97" stroke="#222" stroke-width="0.5" opacity="0.45"/>
<line x1="90.7" y1="97" x2="93.7" y2="97" stroke="#222" stroke-width="0.4" opacity="0.35"/>
<line x1="82.1" y1="109.6" x2="87.89999999999999" y2="109.6" stroke="#222" stroke-width="0.5" opacity="0.45"/>
<line x1="90.7" y1="109.6" x2="93.7" y2="109.6" stroke="#222" stroke-width="0.4" opacity="0.35"/>
<line x1="82.1" y1="121.3" x2="87.89999999999999" y2="121.3" stroke="#222" stroke-width="0.5" opacity="0.45"/>
<line x1="90.7" y1="121.3" x2="93.7" y2="121.3" stroke="#222" stroke-width="0.4" opacity="0.35"/>
<rect x="176.29999999999998" y="27.1" width="14.450000000000012" height="98.3" fill="#f8f8f8"/>
<rect x="177.1" y="27.3" width="5.8" height="98" fill="url(#gbar)"/>
<rect x="183.75" y="27.3" width="6.4" height="98" fill="url(#cbar)"/>
<rect x="178.1" y="29.2" width="3.6" height="1.6" fill="#999" opacity="0.7"/><rect x="184.95" y="29.2" width="3.8" height="1.6" fill="#999" opacity="0.7"/>
<line x1="177.1" y1="37.5" x2="182.9" y2="37.5" stroke="#222" stroke-width="0.5" opacity="0.45"/>
<line x1="185.25" y1="37.5" x2="188.25" y2="37.5" stroke="#222" stroke-width="0.4" opacity="0.35"/>
<line x1="177.1" y1="50" x2="182.9" y2="50" stroke="#222" stroke-width="0.5" opacity="0.45"/>
<line x1="185.25" y1="50" x2="188.25" y2="50" stroke="#222" stroke-width="0.4" opacity="0.35"/>
<line x1="177.1" y1="62" x2="182.9" y2="62" stroke="#222" stroke-width="0.5" opacity="0.45"/>
<line x1="185.25" y1="62" x2="188.25" y2="62" stroke="#222" stroke-width="0.4" opacity="0.35"/>
<line x1="177.1" y1="74.6" x2="182.9" y2="74.6" stroke="#222" stroke-width="0.5" opacity="0.45"/>
<line x1="185.25" y1="74.6" x2="188.25" y2="74.6" stroke="#222" stroke-width="0.4" opacity="0.35"/>
<line x1="177.1" y1="86" x2="182.9" y2="86" stroke="#222" stroke-width="0.5" opacity="0.45"/>
<line x1="185.25" y1="86" x2="188.25" y2="86" stroke="#222" stroke-width="0.4" opacity="0.35"/>
<line x1="177.1" y1="97" x2="182.9" y2="97" stroke="#222" stroke-width="0.5" opacity="0.45"/>
<line x1="185.25" y1="97" x2="188.25" y2="97" stroke="#222" stroke-width="0.4" opacity="0.35"/>
<line x1="177.1" y1="109.6" x2="182.9" y2="109.6" stroke="#222" stroke-width="0.5" opacity="0.45"/>
<line x1="185.25" y1="109.6" x2="188.25" y2="109.6" stroke="#222" stroke-width="0.4" opacity="0.35"/>
<line x1="177.1" y1="121.3" x2="182.9" y2="121.3" stroke="#222" stroke-width="0.5" opacity="0.45"/>
<line x1="185.25" y1="121.3" x2="188.25" y2="121.3" stroke="#222" stroke-width="0.4" opacity="0.35"/>
<text x="43" y="6.8" font-size="7.2" text-anchor="middle" fill="#111" textLength="42.2" lengthAdjust="spacingAndGlyphs">Nonresponder</text>
<text x="135.6" y="6.8" font-size="7.2" text-anchor="middle" fill="#111" textLength="31.8" lengthAdjust="spacingAndGlyphs">Responder</text>
<text x="21.2" y="24.6" font-size="7.2" text-anchor="middle" fill="#111" textLength="10.2" lengthAdjust="spacingAndGlyphs">Pre</text>
<text x="62.4" y="24.6" font-size="7.2" text-anchor="middle" fill="#111" textLength="13.4" lengthAdjust="spacingAndGlyphs">Post</text>
<text x="114.4" y="24.6" font-size="7.2" text-anchor="middle" fill="#111" textLength="10.2" lengthAdjust="spacingAndGlyphs">Pre</text>
<text x="156.6" y="24.6" font-size="7.2" text-anchor="middle" fill="#111" textLength="13.6" lengthAdjust="spacingAndGlyphs">Post</text>
<polyline points="21.8,15.6 21.8,9.8 63.8,9.8 63.8,15.6" fill="none" stroke="#111" stroke-width="1.3"/>
<polyline points="115.1,15.4 115.1,9.7 157.5,9.7 157.5,15.4" fill="none" stroke="#111" stroke-width="1.3"/>
<line x1="221.10" y1="29.20" x2="221.10" y2="106.00" stroke="#333" stroke-width="1.0" />
<line x1="221.10" y1="106.00" x2="318.75" y2="106.00" stroke="#333" stroke-width="1.0" />
<line x1="217.80" y1="98.90" x2="221.10" y2="98.90" stroke="#333" stroke-width="0.8" />
<text x="217.10" y="100.90" font-size="5.6" text-anchor="end" font-weight="bold" fill="#111" color="#111" >1.0</text>
<line x1="217.80" y1="81.60" x2="221.10" y2="81.60" stroke="#333" stroke-width="0.8" />
<text x="217.10" y="83.60" font-size="5.6" text-anchor="end" font-weight="bold" fill="#111" color="#111" >1.5</text>
<line x1="217.80" y1="64.30" x2="221.10" y2="64.30" stroke="#333" stroke-width="0.8" />
<text x="217.10" y="66.30" font-size="5.6" text-anchor="end" font-weight="bold" fill="#111" color="#111" >2.0</text>
<line x1="217.80" y1="47.00" x2="221.10" y2="47.00" stroke="#333" stroke-width="0.8" />
<text x="217.10" y="49.00" font-size="5.6" text-anchor="end" font-weight="bold" fill="#111" color="#111" >2.5</text>
<line x1="217.80" y1="29.70" x2="221.10" y2="29.70" stroke="#333" stroke-width="0.8" />
<text x="217.10" y="31.70" font-size="5.6" text-anchor="end" font-weight="bold" fill="#111" color="#111" >3.0</text>
<line x1="245.10" y1="106.00" x2="245.10" y2="108.60" stroke="#333" stroke-width="0.8" />
<text x="245.10" y="115.00" font-size="5.6" text-anchor="middle" font-weight="bold" fill="#111" color="#111" >Day 0</text>
<line x1="293.50" y1="106.00" x2="293.50" y2="108.60" stroke="#333" stroke-width="0.8" />
<text x="293.50" y="115.00" font-size="5.6" text-anchor="middle" font-weight="bold" fill="#111" color="#111" >Day 5</text>
<text x="266.00" y="19.80" font-size="6.2" text-anchor="middle" font-weight="bold" fill="#111" color="#111" >TNBC Tumors</text>
<text x="0" y="0" font-size="6.4" text-anchor="middle" font-weight="bold" fill="#111" color="#111" transform="translate(205.40,67.10) rotate(-90)">FMISO TBR</text>
<text x="267.40" y="125.40" font-size="6.8" text-anchor="middle" font-weight="normal" fill="#111" color="#111" >Days posttherapy</text>
<line x1="245.10" y1="85.10" x2="293.50" y2="84.00" stroke="#e84a4a" stroke-width="0.9" />
<line x1="245.10" y1="82.40" x2="245.10" y2="87.80" stroke="#e02828" stroke-width="0.7" />
<line x1="243.50" y1="82.40" x2="246.70" y2="82.40" stroke="#e02828" stroke-width="0.7" />
<line x1="243.50" y1="87.80" x2="246.70" y2="87.80" stroke="#e02828" stroke-width="0.7" />
<line x1="293.50" y1="81.80" x2="293.50" y2="86.20" stroke="#e02828" stroke-width="0.7" />
<line x1="291.90" y1="81.80" x2="295.10" y2="81.80" stroke="#e02828" stroke-width="0.7" />
<line x1="291.90" y1="86.20" x2="295.10" y2="86.20" stroke="#e02828" stroke-width="0.7" />
<circle cx="245.10" cy="85.10" r="1.9" fill="#e02828"/>
<circle cx="293.50" cy="84.00" r="1.9" fill="#e02828"/>
<line x1="245.10" y1="68.20" x2="293.50" y2="58.90" stroke="#3a3ae2" stroke-width="0.9" />
<line x1="245.10" y1="61.80" x2="245.10" y2="74.80" stroke="#1c1cd8" stroke-width="0.7" />
<line x1="243.50" y1="61.80" x2="246.70" y2="61.80" stroke="#1c1cd8" stroke-width="0.7" />
<line x1="243.50" y1="74.80" x2="246.70" y2="74.80" stroke="#1c1cd8" stroke-width="0.7" />
<line x1="293.50" y1="54.50" x2="293.50" y2="63.00" stroke="#1c1cd8" stroke-width="0.7" />
<line x1="291.90" y1="54.50" x2="295.10" y2="54.50" stroke="#1c1cd8" stroke-width="0.7" />
<line x1="291.90" y1="63.00" x2="295.10" y2="63.00" stroke="#1c1cd8" stroke-width="0.7" />
<rect x="243.20" y="66.40" width="3.80" height="3.80" fill="#1c1cd8" />
<rect x="291.60" y="57.00" width="3.80" height="3.80" fill="#1c1cd8" />
<polyline points="240.40,68.10 231.00,68.10 231.00,84.40 240.40,84.40" stroke="#111" stroke-width="1.3" fill="none" />
<circle cx="235.40" cy="77.20" r="1.5" fill="#111"/>
<polyline points="298.00,57.50 301.40,57.50 301.40,84.50 298.00,84.50" stroke="#111" stroke-width="1.3" fill="none" />
<circle cx="305.60" cy="72.00" r="1.6" fill="#111"/>
<circle cx="310.30" cy="72.00" r="1.6" fill="#111"/>
<circle cx="315.00" cy="72.00" r="1.6" fill="#111"/>
<line x1="361.25" y1="29.30" x2="361.25" y2="104.50" stroke="#333" stroke-width="1.0" />
<line x1="361.25" y1="104.50" x2="457.80" y2="104.50" stroke="#333" stroke-width="1.0" />
<line x1="357.95" y1="97.50" x2="361.25" y2="97.50" stroke="#333" stroke-width="0.8" />
<text x="357.25" y="99.50" font-size="5.6" text-anchor="end" font-weight="bold" fill="#111" color="#111" >1.0</text>
<line x1="357.95" y1="80.58" x2="361.25" y2="80.58" stroke="#333" stroke-width="0.8" />
<text x="357.25" y="82.58" font-size="5.6" text-anchor="end" font-weight="bold" fill="#111" color="#111" >1.5</text>
<line x1="357.95" y1="63.65" x2="361.25" y2="63.65" stroke="#333" stroke-width="0.8" />
<text x="357.25" y="65.65" font-size="5.6" text-anchor="end" font-weight="bold" fill="#111" color="#111" >2.0</text>
<line x1="357.95" y1="46.72" x2="361.25" y2="46.72" stroke="#333" stroke-width="0.8" />
<text x="357.25" y="48.72" font-size="5.6" text-anchor="end" font-weight="bold" fill="#111" color="#111" >2.5</text>
<line x1="357.95" y1="29.80" x2="361.25" y2="29.80" stroke="#333" stroke-width="0.8" />
<text x="357.25" y="31.80" font-size="5.6" text-anchor="end" font-weight="bold" fill="#111" color="#111" >3.0</text>
<line x1="385.75" y1="104.50" x2="385.75" y2="107.10" stroke="#333" stroke-width="0.8" />
<text x="385.75" y="113.50" font-size="5.6" text-anchor="middle" font-weight="bold" fill="#111" color="#111" >Day 0</text>
<line x1="433.75" y1="104.50" x2="433.75" y2="107.10" stroke="#333" stroke-width="0.8" />
<text x="433.75" y="113.50" font-size="5.6" text-anchor="middle" font-weight="bold" fill="#111" color="#111" >Day 5</text>
<text x="405.80" y="18.50" font-size="6.2" text-anchor="middle" font-weight="bold" fill="#111" color="#111" >Colon cancer tumors</text>
<text x="0" y="0" font-size="6.4" text-anchor="middle" font-weight="bold" fill="#111" color="#111" transform="translate(343.80,66.80) rotate(-90)">FMISO TBR</text>
<text x="408.50" y="124.80" font-size="6.8" text-anchor="middle" font-weight="normal" fill="#111" color="#111" >Days posttherapy</text>
<line x1="385.75" y1="70.50" x2="433.75" y2="75.00" stroke="#e84a4a" stroke-width="0.9" />
<line x1="385.75" y1="65.30" x2="385.75" y2="75.50" stroke="#e02828" stroke-width="0.7" />
<line x1="384.15" y1="65.30" x2="387.35" y2="65.30" stroke="#e02828" stroke-width="0.7" />
<line x1="384.15" y1="75.50" x2="387.35" y2="75.50" stroke="#e02828" stroke-width="0.7" />
<line x1="433.75" y1="71.80" x2="433.75" y2="77.90" stroke="#e02828" stroke-width="0.7" />
<line x1="432.15" y1="71.80" x2="435.35" y2="71.80" stroke="#e02828" stroke-width="0.7" />
<line x1="432.15" y1="77.90" x2="435.35" y2="77.90" stroke="#e02828" stroke-width="0.7" />
<circle cx="385.75" cy="70.50" r="1.9" fill="#e02828"/>
<circle cx="433.75" cy="75.00" r="1.9" fill="#e02828"/>
<line x1="385.75" y1="90.75" x2="433.75" y2="50.00" stroke="#3a3ae2" stroke-width="0.9" />
<line x1="385.75" y1="84.30" x2="385.75" y2="96.50" stroke="#1c1cd8" stroke-width="0.7" />
<line x1="384.15" y1="84.30" x2="387.35" y2="84.30" stroke="#1c1cd8" stroke-width="0.7" />
<line x1="384.15" y1="96.50" x2="387.35" y2="96.50" stroke="#1c1cd8" stroke-width="0.7" />
<line x1="433.75" y1="46.70" x2="433.75" y2="53.50" stroke="#1c1cd8" stroke-width="0.7" />
<line x1="432.15" y1="46.70" x2="435.35" y2="46.70" stroke="#1c1cd8" stroke-width="0.7" />
<line x1="432.15" y1="53.50" x2="435.35" y2="53.50" stroke="#1c1cd8" stroke-width="0.7" />
<rect x="383.85" y="88.85" width="3.80" height="3.80" fill="#1c1cd8" />
<rect x="431.85" y="48.10" width="3.80" height="3.80" fill="#1c1cd8" />
<polyline points="377.00,70.00 367.50,70.00 367.50,91.25 377.00,91.25" stroke="#111" stroke-width="1.3" fill="none" />
<circle cx="371.80" cy="81.30" r="1.5" fill="#111"/>
<polyline points="438.20,48.70 442.40,48.70 442.40,74.00 438.20,74.00" stroke="#111" stroke-width="1.3" fill="none" />
<circle cx="446.20" cy="62.90" r="1.6" fill="#111"/>
<circle cx="450.65" cy="62.90" r="1.6" fill="#111"/>
<circle cx="455.10" cy="62.90" r="1.6" fill="#111"/>
<line x1="452.50" y1="30.00" x2="460.30" y2="30.00" stroke="#3a3ae2" stroke-width="0.9" />
<rect x="454.80" y="28.40" width="3.20" height="3.20" fill="#1c1cd8" />
<text x="464.70" y="32.20" font-size="6.2" text-anchor="start" font-weight="normal" fill="#111" color="#111" >Nonresponders</text>
<line x1="452.50" y1="42.80" x2="460.30" y2="42.80" stroke="#e84a4a" stroke-width="0.9" />
<circle cx="456.40" cy="42.80" r="1.7" fill="#e02828"/>
<text x="464.70" y="45.00" font-size="6.2" text-anchor="start" font-weight="normal" fill="#111" color="#111" >Responders</text>
<line x1="31.50" y1="149.50" x2="31.50" y2="218.60" stroke="#444" stroke-width="0.9" />
<line x1="31.50" y1="218.60" x2="135.50" y2="218.60" stroke="#444" stroke-width="0.9" />
<line x1="29.30" y1="218.60" x2="31.50" y2="218.60" stroke="#444" stroke-width="0.7" />
<text x="28.50" y="220.50" font-size="5.2" text-anchor="end" font-weight="normal" fill="#222" color="#222" >0</text>
<line x1="29.30" y1="201.45" x2="31.50" y2="201.45" stroke="#444" stroke-width="0.7" />
<text x="28.50" y="203.35" font-size="5.2" text-anchor="end" font-weight="normal" fill="#222" color="#222" >1</text>
<line x1="29.30" y1="184.30" x2="31.50" y2="184.30" stroke="#444" stroke-width="0.7" />
<text x="28.50" y="186.20" font-size="5.2" text-anchor="end" font-weight="normal" fill="#222" color="#222" >2</text>
<line x1="29.30" y1="167.15" x2="31.50" y2="167.15" stroke="#444" stroke-width="0.7" />
<text x="28.50" y="169.05" font-size="5.2" text-anchor="end" font-weight="normal" fill="#222" color="#222" >3</text>
<line x1="29.30" y1="150.00" x2="31.50" y2="150.00" stroke="#444" stroke-width="0.7" />
<text x="28.50" y="151.90" font-size="5.2" text-anchor="end" font-weight="normal" fill="#222" color="#222" >4</text>
<line x1="31.50" y1="218.60" x2="31.50" y2="221.00" stroke="#444" stroke-width="0.6" />
<line x1="34.95" y1="218.60" x2="34.95" y2="219.90" stroke="#444" stroke-width="0.6" />
<line x1="38.40" y1="218.60" x2="38.40" y2="219.90" stroke="#444" stroke-width="0.6" />
<line x1="41.85" y1="218.60" x2="41.85" y2="219.90" stroke="#444" stroke-width="0.6" />
<line x1="45.30" y1="218.60" x2="45.30" y2="219.90" stroke="#444" stroke-width="0.6" />
<line x1="48.75" y1="218.60" x2="48.75" y2="219.90" stroke="#444" stroke-width="0.6" />
<line x1="52.20" y1="218.60" x2="52.20" y2="219.90" stroke="#444" stroke-width="0.6" />
<line x1="55.65" y1="218.60" x2="55.65" y2="219.90" stroke="#444" stroke-width="0.6" />
<line x1="59.10" y1="218.60" x2="59.10" y2="219.90" stroke="#444" stroke-width="0.6" />
<line x1="62.55" y1="218.60" x2="62.55" y2="219.90" stroke="#444" stroke-width="0.6" />
<line x1="66.00" y1="218.60" x2="66.00" y2="221.00" stroke="#444" stroke-width="0.6" />
<line x1="69.45" y1="218.60" x2="69.45" y2="219.90" stroke="#444" stroke-width="0.6" />
<line x1="72.90" y1="218.60" x2="72.90" y2="219.90" stroke="#444" stroke-width="0.6" />
<line x1="76.35" y1="218.60" x2="76.35" y2="219.90" stroke="#444" stroke-width="0.6" />
<line x1="79.80" y1="218.60" x2="79.80" y2="219.90" stroke="#444" stroke-width="0.6" />
<line x1="83.25" y1="218.60" x2="83.25" y2="219.90" stroke="#444" stroke-width="0.6" />
<line x1="86.70" y1="218.60" x2="86.70" y2="219.90" stroke="#444" stroke-width="0.6" />
<line x1="90.15" y1="218.60" x2="90.15" y2="219.90" stroke="#444" stroke-width="0.6" />
<line x1="93.60" y1="218.60" x2="93.60" y2="219.90" stroke="#444" stroke-width="0.6" />
<line x1="97.05" y1="218.60" x2="97.05" y2="219.90" stroke="#444" stroke-width="0.6" />
<line x1="100.50" y1="218.60" x2="100.50" y2="221.00" stroke="#444" stroke-width="0.6" />
<line x1="103.95" y1="218.60" x2="103.95" y2="219.90" stroke="#444" stroke-width="0.6" />
<line x1="107.40" y1="218.60" x2="107.40" y2="219.90" stroke="#444" stroke-width="0.6" />
<line x1="110.85" y1="218.60" x2="110.85" y2="219.90" stroke="#444" stroke-width="0.6" />
<line x1="114.30" y1="218.60" x2="114.30" y2="219.90" stroke="#444" stroke-width="0.6" />
<line x1="117.75" y1="218.60" x2="117.75" y2="219.90" stroke="#444" stroke-width="0.6" />
<line x1="121.20" y1="218.60" x2="121.20" y2="219.90" stroke="#444" stroke-width="0.6" />
<line x1="124.65" y1="218.60" x2="124.65" y2="219.90" stroke="#444" stroke-width="0.6" />
<line x1="128.10" y1="218.60" x2="128.10" y2="219.90" stroke="#444" stroke-width="0.6" />
<line x1="131.55" y1="218.60" x2="131.55" y2="219.90" stroke="#444" stroke-width="0.6" />
<line x1="135.00" y1="218.60" x2="135.00" y2="221.00" stroke="#444" stroke-width="0.6" />
<text x="31.50" y="227.20" font-size="5.0" text-anchor="middle" font-weight="normal" fill="#222" color="#222" >0</text>
<text x="66.00" y="227.20" font-size="5.0" text-anchor="middle" font-weight="normal" fill="#222" color="#222" >500</text>
<text x="100.50" y="227.20" font-size="5.0" text-anchor="middle" font-weight="normal" fill="#222" color="#222" >1,000</text>
<text x="135.00" y="227.20" font-size="5.0" text-anchor="middle" font-weight="normal" fill="#222" color="#222" >1,500</text>
<text x="86.50" y="143.90" font-size="6.8" text-anchor="middle" font-weight="bold" fill="#111" color="#111" >Day 0</text>
<text x="105.5" y="166.8" font-size="5.8" fill="#111"><tspan font-style="italic">R</tspan><tspan font-size="4.2" dy="-2.2">2</tspan><tspan dy="2.2"> = 0.02</tspan></text>
<text x="105.5" y="173.8" font-size="5.8" fill="#111"><tspan font-style="italic">P</tspan> = 0.35</text>
<text x="0" y="0" font-size="5.4" text-anchor="middle" font-weight="bold" fill="#111" color="#111" transform="translate(22.00,186.30) rotate(-90)">TBR</text>
<text x="83.00" y="235.60" font-size="6.2" text-anchor="middle" font-weight="normal" fill="#111" color="#111" >Tumor volume</text>
<line x1="34.00" y1="191.70" x2="108.70" y2="184.30" stroke="#444" stroke-width="0.75" />
<circle cx="40.30" cy="158.30" r="1.8" fill="#111"/>
<circle cx="40.70" cy="175.80" r="1.8" fill="#111"/>
<circle cx="35.80" cy="179.90" r="1.8" fill="#111"/>
<circle cx="39.30" cy="179.90" r="1.8" fill="#111"/>
<circle cx="42.80" cy="180.90" r="1.8" fill="#111"/>
<circle cx="47.10" cy="179.50" r="1.8" fill="#111"/>
<circle cx="38.70" cy="184.00" r="1.8" fill="#111"/>
<circle cx="37.90" cy="187.10" r="1.8" fill="#111"/>
<circle cx="40.70" cy="185.00" r="1.8" fill="#111"/>
<circle cx="44.40" cy="184.00" r="1.8" fill="#111"/>
<circle cx="48.50" cy="184.60" r="1.8" fill="#111"/>
<circle cx="50.60" cy="188.10" r="1.8" fill="#111"/>
<circle cx="35.20" cy="191.20" r="1.8" fill="#111"/>
<circle cx="37.90" cy="190.10" r="1.8" fill="#111"/>
<circle cx="39.90" cy="191.60" r="1.8" fill="#111"/>
<circle cx="48.50" cy="192.20" r="1.8" fill="#111"/>
<circle cx="50.60" cy="194.30" r="1.8" fill="#111"/>
<circle cx="53.70" cy="190.10" r="1.8" fill="#111"/>
<circle cx="55.30" cy="189.50" r="1.8" fill="#111"/>
<circle cx="58.40" cy="190.80" r="1.8" fill="#111"/>
<circle cx="55.10" cy="196.30" r="1.8" fill="#111"/>
<circle cx="52.60" cy="199.80" r="1.8" fill="#111"/>
<circle cx="39.30" cy="195.30" r="1.8" fill="#111"/>
<circle cx="38.30" cy="198.40" r="1.8" fill="#111"/>
<circle cx="39.30" cy="201.40" r="1.8" fill="#111"/>
<circle cx="44.80" cy="200.40" r="1.8" fill="#111"/>
<circle cx="46.50" cy="199.80" r="1.8" fill="#111"/>
<circle cx="37.20" cy="204.50" r="1.8" fill="#111"/>
<circle cx="41.30" cy="205.50" r="1.8" fill="#111"/>
<circle cx="42.00" cy="210.10" r="1.8" fill="#111"/>
<circle cx="38.70" cy="211.70" r="1.8" fill="#111"/>
<circle cx="67.00" cy="170.60" r="1.8" fill="#111"/>
<circle cx="68.70" cy="199.00" r="1.8" fill="#111"/>
<circle cx="84.50" cy="185.40" r="1.8" fill="#111"/>
<circle cx="108.70" cy="184.20" r="1.8" fill="#111"/>
<circle cx="36.60" cy="195.30" r="1.8" fill="#111"/>
<circle cx="40.30" cy="188.10" r="1.8" fill="#111"/>
<line x1="191.80" y1="148.50" x2="191.80" y2="218.60" stroke="#444" stroke-width="0.9" />
<line x1="191.80" y1="218.60" x2="294.50" y2="218.60" stroke="#444" stroke-width="0.9" />
<line x1="189.60" y1="218.60" x2="191.80" y2="218.60" stroke="#444" stroke-width="0.7" />
<text x="188.80" y="220.50" font-size="5.2" text-anchor="end" font-weight="normal" fill="#222" color="#222" >0</text>
<line x1="189.60" y1="201.20" x2="191.80" y2="201.20" stroke="#444" stroke-width="0.7" />
<text x="188.80" y="203.10" font-size="5.2" text-anchor="end" font-weight="normal" fill="#222" color="#222" >1</text>
<line x1="189.60" y1="183.80" x2="191.80" y2="183.80" stroke="#444" stroke-width="0.7" />
<text x="188.80" y="185.70" font-size="5.2" text-anchor="end" font-weight="normal" fill="#222" color="#222" >2</text>
<line x1="189.60" y1="166.40" x2="191.80" y2="166.40" stroke="#444" stroke-width="0.7" />
<text x="188.80" y="168.30" font-size="5.2" text-anchor="end" font-weight="normal" fill="#222" color="#222" >3</text>
<line x1="189.60" y1="149.00" x2="191.80" y2="149.00" stroke="#444" stroke-width="0.7" />
<text x="188.80" y="150.90" font-size="5.2" text-anchor="end" font-weight="normal" fill="#222" color="#222" >4</text>
<line x1="191.80" y1="218.60" x2="191.80" y2="221.00" stroke="#444" stroke-width="0.6" />
<line x1="195.21" y1="218.60" x2="195.21" y2="219.90" stroke="#444" stroke-width="0.6" />
<line x1="198.61" y1="218.60" x2="198.61" y2="219.90" stroke="#444" stroke-width="0.6" />
<line x1="202.02" y1="218.60" x2="202.02" y2="219.90" stroke="#444" stroke-width="0.6" />
<line x1="205.43" y1="218.60" x2="205.43" y2="219.90" stroke="#444" stroke-width="0.6" />
<line x1="208.83" y1="218.60" x2="208.83" y2="219.90" stroke="#444" stroke-width="0.6" />
<line x1="212.24" y1="218.60" x2="212.24" y2="219.90" stroke="#444" stroke-width="0.6" />
<line x1="215.65" y1="218.60" x2="215.65" y2="219.90" stroke="#444" stroke-width="0.6" />
<line x1="219.05" y1="218.60" x2="219.05" y2="219.90" stroke="#444" stroke-width="0.6" />
<line x1="222.46" y1="218.60" x2="222.46" y2="219.90" stroke="#444" stroke-width="0.6" />
<line x1="225.87" y1="218.60" x2="225.87" y2="221.00" stroke="#444" stroke-width="0.6" />
<line x1="229.27" y1="218.60" x2="229.27" y2="219.90" stroke="#444" stroke-width="0.6" />
<line x1="232.68" y1="218.60" x2="232.68" y2="219.90" stroke="#444" stroke-width="0.6" />
<line x1="236.09" y1="218.60" x2="236.09" y2="219.90" stroke="#444" stroke-width="0.6" />
<line x1="239.49" y1="218.60" x2="239.49" y2="219.90" stroke="#444" stroke-width="0.6" />
<line x1="242.90" y1="218.60" x2="242.90" y2="219.90" stroke="#444" stroke-width="0.6" />
<line x1="246.31" y1="218.60" x2="246.31" y2="219.90" stroke="#444" stroke-width="0.6" />
<line x1="249.71" y1="218.60" x2="249.71" y2="219.90" stroke="#444" stroke-width="0.6" />
<line x1="253.12" y1="218.60" x2="253.12" y2="219.90" stroke="#444" stroke-width="0.6" />
<line x1="256.53" y1="218.60" x2="256.53" y2="219.90" stroke="#444" stroke-width="0.6" />
<line x1="259.93" y1="218.60" x2="259.93" y2="221.00" stroke="#444" stroke-width="0.6" />
<line x1="263.34" y1="218.60" x2="263.34" y2="219.90" stroke="#444" stroke-width="0.6" />
<line x1="266.75" y1="218.60" x2="266.75" y2="219.90" stroke="#444" stroke-width="0.6" />
<line x1="270.15" y1="218.60" x2="270.15" y2="219.90" stroke="#444" stroke-width="0.6" />
<line x1="273.56" y1="218.60" x2="273.56" y2="219.90" stroke="#444" stroke-width="0.6" />
<line x1="276.97" y1="218.60" x2="276.97" y2="219.90" stroke="#444" stroke-width="0.6" />
<line x1="280.37" y1="218.60" x2="280.37" y2="219.90" stroke="#444" stroke-width="0.6" />
<line x1="283.78" y1="218.60" x2="283.78" y2="219.90" stroke="#444" stroke-width="0.6" />
<line x1="287.19" y1="218.60" x2="287.19" y2="219.90" stroke="#444" stroke-width="0.6" />
<line x1="290.59" y1="218.60" x2="290.59" y2="219.90" stroke="#444" stroke-width="0.6" />
<line x1="294.00" y1="218.60" x2="294.00" y2="221.00" stroke="#444" stroke-width="0.6" />
<text x="191.80" y="227.20" font-size="5.0" text-anchor="middle" font-weight="normal" fill="#222" color="#222" >0</text>
<text x="225.87" y="227.20" font-size="5.0" text-anchor="middle" font-weight="normal" fill="#222" color="#222" >500</text>
<text x="259.93" y="227.20" font-size="5.0" text-anchor="middle" font-weight="normal" fill="#222" color="#222" >1,000</text>
<text x="294.00" y="227.20" font-size="5.0" text-anchor="middle" font-weight="normal" fill="#222" color="#222" >1,500</text>
<text x="247.00" y="143.90" font-size="6.8" text-anchor="middle" font-weight="bold" fill="#111" color="#111" >Day 5</text>
<text x="275.8" y="156.6" font-size="5.8" fill="#111"><tspan font-style="italic">R</tspan><tspan font-size="4.2" dy="-2.2">2</tspan><tspan dy="2.2"> = 0.13</tspan></text>
<text x="275.8" y="163.6" font-size="5.8" fill="#111"><tspan font-style="italic">P</tspan> = 0.11</text>
<text x="0" y="0" font-size="5.4" text-anchor="middle" font-weight="bold" fill="#111" color="#111" transform="translate(181.50,185.80) rotate(-90)">TBR</text>
<text x="244.20" y="235.60" font-size="6.2" text-anchor="middle" font-weight="normal" fill="#111" color="#111" >Tumor volume</text>
<line x1="192.70" y1="188.20" x2="287.80" y2="173.80" stroke="#444" stroke-width="0.75" />
<rect x="194.35" y="188.35" width="3.30" height="3.30" fill="#111" />
<rect x="197.05" y="167.25" width="3.30" height="3.30" fill="#111" />
<rect x="197.25" y="196.15" width="3.30" height="3.30" fill="#111" />
<rect x="197.65" y="201.05" width="3.30" height="3.30" fill="#111" />
<rect x="199.45" y="179.95" width="3.30" height="3.30" fill="#111" />
<rect x="198.75" y="186.55" width="3.30" height="3.30" fill="#111" />
<rect x="201.65" y="187.05" width="3.30" height="3.30" fill="#111" />
<rect x="200.35" y="192.75" width="3.30" height="3.30" fill="#111" />
<rect x="202.15" y="194.35" width="3.30" height="3.30" fill="#111" />
<rect x="209.25" y="178.15" width="3.30" height="3.30" fill="#111" />
<rect x="213.25" y="173.95" width="3.30" height="3.30" fill="#111" />
<rect x="213.25" y="180.55" width="3.30" height="3.30" fill="#111" />
<rect x="218.75" y="167.25" width="3.30" height="3.30" fill="#111" />
<rect x="222.55" y="173.95" width="3.30" height="3.30" fill="#111" />
<rect x="232.15" y="178.75" width="3.30" height="3.30" fill="#111" />
<rect x="233.65" y="173.25" width="3.30" height="3.30" fill="#111" />
<rect x="238.75" y="169.95" width="3.30" height="3.30" fill="#111" />
<rect x="261.05" y="182.55" width="3.30" height="3.30" fill="#111" />
<rect x="285.45" y="183.95" width="3.30" height="3.30" fill="#111" />
<line x1="369.20" y1="148.40" x2="369.20" y2="222.40" stroke="#333" stroke-width="1.0" />
<line x1="369.20" y1="222.40" x2="493.00" y2="222.40" stroke="#333" stroke-width="1.0" />
<line x1="365.50" y1="222.40" x2="369.20" y2="222.40" stroke="#333" stroke-width="0.8" />
<text x="364.20" y="224.40" font-size="5.6" text-anchor="end" font-weight="bold" fill="#111" color="#111" >0</text>
<line x1="365.50" y1="207.70" x2="369.20" y2="207.70" stroke="#333" stroke-width="0.8" />
<text x="364.20" y="209.70" font-size="5.6" text-anchor="end" font-weight="bold" fill="#111" color="#111" >500</text>
<line x1="365.50" y1="193.00" x2="369.20" y2="193.00" stroke="#333" stroke-width="0.8" />
<text x="364.20" y="195.00" font-size="5.6" text-anchor="end" font-weight="bold" fill="#111" color="#111" >1,000</text>
<line x1="365.50" y1="178.30" x2="369.20" y2="178.30" stroke="#333" stroke-width="0.8" />
<text x="364.20" y="180.30" font-size="5.6" text-anchor="end" font-weight="bold" fill="#111" color="#111" >1,500</text>
<line x1="365.50" y1="163.60" x2="369.20" y2="163.60" stroke="#333" stroke-width="0.8" />
<text x="364.20" y="165.60" font-size="5.6" text-anchor="end" font-weight="bold" fill="#111" color="#111" >2,000</text>
<line x1="365.50" y1="148.90" x2="369.20" y2="148.90" stroke="#333" stroke-width="0.8" />
<text x="364.20" y="150.90" font-size="5.6" text-anchor="end" font-weight="bold" fill="#111" color="#111" >2,500</text>
<line x1="369.20" y1="222.40" x2="369.20" y2="225.00" stroke="#333" stroke-width="0.8" />
<text x="369.20" y="232.00" font-size="5.8" text-anchor="middle" font-weight="bold" fill="#111" color="#111" >0</text>
<line x1="400.10" y1="222.40" x2="400.10" y2="225.00" stroke="#333" stroke-width="0.8" />
<text x="400.10" y="232.00" font-size="5.8" text-anchor="middle" font-weight="bold" fill="#111" color="#111" >5</text>
<line x1="431.00" y1="222.40" x2="431.00" y2="225.00" stroke="#333" stroke-width="0.8" />
<text x="431.00" y="232.00" font-size="5.8" text-anchor="middle" font-weight="bold" fill="#111" color="#111" >10</text>
<line x1="461.90" y1="222.40" x2="461.90" y2="225.00" stroke="#333" stroke-width="0.8" />
<text x="461.90" y="232.00" font-size="5.8" text-anchor="middle" font-weight="bold" fill="#111" color="#111" >15</text>
<line x1="492.80" y1="222.40" x2="492.80" y2="225.00" stroke="#333" stroke-width="0.8" />
<text x="492.80" y="232.00" font-size="5.8" text-anchor="middle" font-weight="bold" fill="#111" color="#111" >20</text>
<text x="0" y="0" font-size="6.4" text-anchor="middle" font-weight="normal" fill="#111" color="#111" transform="translate(344.60,184.40) rotate(-90)">Tumor volume (mm<tspan font-size="4.2" dy="-2">3</tspan><tspan dy="2">)</tspan></text>
<text x="432.70" y="141.20" font-size="6.8" text-anchor="middle" font-weight="normal" fill="#111" color="#111" >TNBC Tumors</text>
<line x1="373.30" y1="223.00" x2="373.30" y2="232.70" stroke="#f4a070" stroke-width="1.0" />
<line x1="388.00" y1="223.00" x2="388.00" y2="229.00" stroke="#f4a070" stroke-width="1.0" />
<line x1="408.00" y1="223.00" x2="408.00" y2="232.70" stroke="#f4a070" stroke-width="1.0" />
<text x="387.30" y="239.60" font-size="6.4" text-anchor="middle" font-weight="bold" fill="#f09848" color="#f09848" >CPI</text>
<text x="430.20" y="239.60" font-size="5.8" text-anchor="middle" font-weight="bold" fill="#111" color="#111" >Days on therapy</text>
<text x="377.60" y="164.40" font-size="6.4" text-anchor="middle" font-weight="normal" fill="#111" color="#111" letter-spacing="0.5">PET</text>
<line x1="373.00" y1="166.50" x2="373.00" y2="179.50" stroke="#111" stroke-width="1.0" />
<polygon points="370.60,177.50 375.40,177.50 373.00,182.50" fill="#111"/>
<text x="400.40" y="164.40" font-size="6.4" text-anchor="middle" font-weight="normal" fill="#111" color="#111" letter-spacing="0.5">PET</text>
<line x1="400.50" y1="166.50" x2="400.50" y2="179.50" stroke="#111" stroke-width="1.0" />
<polygon points="398.10,177.50 402.90,177.50 400.50,182.50" fill="#111"/>
<polyline points="369.20,217.30 381.56,217.40 387.74,216.20 412.46,216.20 443.36,216.80 474.26,215.80" stroke="#e84a4a" stroke-width="0.9" fill="none" />
<line x1="369.20" y1="215.30" x2="369.20" y2="219.30" stroke="#e02828" stroke-width="0.6" />
<line x1="368.00" y1="215.30" x2="370.40" y2="215.30" stroke="#e02828" stroke-width="0.6" />
<line x1="368.00" y1="219.30" x2="370.40" y2="219.30" stroke="#e02828" stroke-width="0.6" />
<circle cx="369.20" cy="217.30" r="1.7" fill="#e02828"/>
<line x1="381.56" y1="215.40" x2="381.56" y2="219.40" stroke="#e02828" stroke-width="0.6" />
<line x1="380.36" y1="215.40" x2="382.76" y2="215.40" stroke="#e02828" stroke-width="0.6" />
<line x1="380.36" y1="219.40" x2="382.76" y2="219.40" stroke="#e02828" stroke-width="0.6" />
<circle cx="381.56" cy="217.40" r="1.7" fill="#e02828"/>
<line x1="387.74" y1="214.20" x2="387.74" y2="218.20" stroke="#e02828" stroke-width="0.6" />
<line x1="386.54" y1="214.20" x2="388.94" y2="214.20" stroke="#e02828" stroke-width="0.6" />
<line x1="386.54" y1="218.20" x2="388.94" y2="218.20" stroke="#e02828" stroke-width="0.6" />
<circle cx="387.74" cy="216.20" r="1.7" fill="#e02828"/>
<line x1="412.46" y1="214.20" x2="412.46" y2="218.20" stroke="#e02828" stroke-width="0.6" />
<line x1="411.26" y1="214.20" x2="413.66" y2="214.20" stroke="#e02828" stroke-width="0.6" />
<line x1="411.26" y1="218.20" x2="413.66" y2="218.20" stroke="#e02828" stroke-width="0.6" />
<circle cx="412.46" cy="216.20" r="1.7" fill="#e02828"/>
<line x1="443.36" y1="214.80" x2="443.36" y2="218.80" stroke="#e02828" stroke-width="0.6" />
<line x1="442.16" y1="214.80" x2="444.56" y2="214.80" stroke="#e02828" stroke-width="0.6" />
<line x1="442.16" y1="218.80" x2="444.56" y2="218.80" stroke="#e02828" stroke-width="0.6" />
<circle cx="443.36" cy="216.80" r="1.7" fill="#e02828"/>
<line x1="474.26" y1="213.80" x2="474.26" y2="217.80" stroke="#e02828" stroke-width="0.6" />
<line x1="473.06" y1="213.80" x2="475.46" y2="213.80" stroke="#e02828" stroke-width="0.6" />
<line x1="473.06" y1="217.80" x2="475.46" y2="217.80" stroke="#e02828" stroke-width="0.6" />
<circle cx="474.26" cy="215.80" r="1.7" fill="#e02828"/>
<polyline points="369.20,214.90 381.56,210.90 387.74,206.30 412.46,206.20 443.36,189.90 474.26,171.20" stroke="#3a3ae2" stroke-width="0.9" fill="none" />
<line x1="369.20" y1="213.40" x2="369.20" y2="216.40" stroke="#1c1cd8" stroke-width="0.7" />
<line x1="367.60" y1="213.40" x2="370.80" y2="213.40" stroke="#1c1cd8" stroke-width="0.7" />
<line x1="367.60" y1="216.40" x2="370.80" y2="216.40" stroke="#1c1cd8" stroke-width="0.7" />
<rect x="367.40" y="213.10" width="3.60" height="3.60" fill="#1c1cd8" />
<line x1="381.56" y1="209.10" x2="381.56" y2="212.70" stroke="#1c1cd8" stroke-width="0.7" />
<line x1="379.96" y1="209.10" x2="383.16" y2="209.10" stroke="#1c1cd8" stroke-width="0.7" />
<line x1="379.96" y1="212.70" x2="383.16" y2="212.70" stroke="#1c1cd8" stroke-width="0.7" />
<rect x="379.76" y="209.10" width="3.60" height="3.60" fill="#1c1cd8" />
<line x1="387.74" y1="202.50" x2="387.74" y2="210.10" stroke="#1c1cd8" stroke-width="0.7" />
<line x1="386.14" y1="202.50" x2="389.34" y2="202.50" stroke="#1c1cd8" stroke-width="0.7" />
<line x1="386.14" y1="210.10" x2="389.34" y2="210.10" stroke="#1c1cd8" stroke-width="0.7" />
<rect x="385.94" y="204.50" width="3.60" height="3.60" fill="#1c1cd8" />
<line x1="412.46" y1="202.40" x2="412.46" y2="210.00" stroke="#1c1cd8" stroke-width="0.7" />
<line x1="410.86" y1="202.40" x2="414.06" y2="202.40" stroke="#1c1cd8" stroke-width="0.7" />
<line x1="410.86" y1="210.00" x2="414.06" y2="210.00" stroke="#1c1cd8" stroke-width="0.7" />
<rect x="410.66" y="204.40" width="3.60" height="3.60" fill="#1c1cd8" />
<line x1="443.36" y1="180.90" x2="443.36" y2="198.90" stroke="#1c1cd8" stroke-width="0.7" />
<line x1="441.76" y1="180.90" x2="444.96" y2="180.90" stroke="#1c1cd8" stroke-width="0.7" />
<line x1="441.76" y1="198.90" x2="444.96" y2="198.90" stroke="#1c1cd8" stroke-width="0.7" />
<rect x="441.56" y="188.10" width="3.60" height="3.60" fill="#1c1cd8" />
<line x1="474.26" y1="155.90" x2="474.26" y2="186.50" stroke="#1c1cd8" stroke-width="0.7" />
<line x1="472.66" y1="155.90" x2="475.86" y2="155.90" stroke="#1c1cd8" stroke-width="0.7" />
<line x1="472.66" y1="186.50" x2="475.86" y2="186.50" stroke="#1c1cd8" stroke-width="0.7" />
<rect x="472.46" y="169.40" width="3.60" height="3.60" fill="#1c1cd8" />
<polygon points="379.55,197.70 380.08,198.97 381.45,199.08 380.41,199.98 380.73,201.32 379.55,200.60 378.37,201.32 378.69,199.98 377.65,199.08 379.02,198.97" fill="#111" stroke="#111" stroke-width="0.3"/>
<polygon points="383.45,197.70 383.98,198.97 385.35,199.08 384.31,199.98 384.63,201.32 383.45,200.60 382.27,201.32 382.59,199.98 381.55,199.08 382.92,198.97" fill="#111" stroke="#111" stroke-width="0.3"/>
<polygon points="388.00,188.40 388.53,189.67 389.90,189.78 388.86,190.68 389.18,192.02 388.00,191.30 386.82,192.02 387.14,190.68 386.10,189.78 387.47,189.67" fill="#111" stroke="#111" stroke-width="0.3"/>
<polygon points="411.05,188.40 411.58,189.67 412.95,189.78 411.91,190.68 412.23,192.02 411.05,191.30 409.87,192.02 410.19,190.68 409.15,189.78 410.52,189.67" fill="#111" stroke="#111" stroke-width="0.3"/>
<polygon points="414.95,188.40 415.48,189.67 416.85,189.78 415.81,190.68 416.13,192.02 414.95,191.30 413.77,192.02 414.09,190.68 413.05,189.78 414.42,189.67" fill="#111" stroke="#111" stroke-width="0.3"/>
<polygon points="441.41,173.00 441.94,174.27 443.31,174.38 442.27,175.28 442.59,176.62 441.41,175.90 440.23,176.62 440.55,175.28 439.51,174.38 440.88,174.27" fill="#111" stroke="#111" stroke-width="0.3"/>
<polygon points="445.31,173.00 445.84,174.27 447.21,174.38 446.17,175.28 446.49,176.62 445.31,175.90 444.13,176.62 444.45,175.28 443.41,174.38 444.78,174.27" fill="#111" stroke="#111" stroke-width="0.3"/>
<polygon points="472.31,147.60 472.84,148.87 474.21,148.98 473.17,149.88 473.49,151.22 472.31,150.50 471.13,151.22 471.45,149.88 470.41,148.98 471.78,148.87" fill="#111" stroke="#111" stroke-width="0.3"/>
<polygon points="476.21,147.60 476.74,148.87 478.11,148.98 477.07,149.88 477.39,151.22 476.21,150.50 475.03,151.22 475.35,149.88 474.31,148.98 475.68,148.87" fill="#111" stroke="#111" stroke-width="0.3"/>
<line x1="477.50" y1="193.10" x2="486.00" y2="193.10" stroke="#3a3ae2" stroke-width="0.9" />
<rect x="479.95" y="191.45" width="3.30" height="3.30" fill="#1c1cd8" />
<text x="490.60" y="195.50" font-size="6.6" text-anchor="start" font-weight="normal" fill="#111" color="#111" >Hypoxic</text>
<line x1="477.50" y1="203.00" x2="486.00" y2="203.00" stroke="#e84a4a" stroke-width="0.9" />
<circle cx="481.60" cy="203.00" r="1.7" fill="#e02828"/>
<text x="490.60" y="205.40" font-size="6.6" text-anchor="start" font-weight="normal" fill="#111" color="#111" >Normoxic</text>
<line x1="30.60" y1="258.40" x2="30.60" y2="335.40" stroke="#333" stroke-width="1.0" />
<line x1="30.60" y1="335.40" x2="135.50" y2="335.40" stroke="#333" stroke-width="1.0" />
<line x1="26.80" y1="335.40" x2="30.60" y2="335.40" stroke="#333" stroke-width="0.8" />
<text x="26.00" y="337.40" font-size="5.4" text-anchor="end" font-weight="bold" fill="#111" color="#111" >0</text>
<line x1="26.80" y1="309.90" x2="30.60" y2="309.90" stroke="#333" stroke-width="0.8" />
<text x="26.00" y="311.90" font-size="5.4" text-anchor="end" font-weight="bold" fill="#111" color="#111" >1,000</text>
<line x1="26.80" y1="284.40" x2="30.60" y2="284.40" stroke="#333" stroke-width="0.8" />
<text x="26.00" y="286.40" font-size="5.4" text-anchor="end" font-weight="bold" fill="#111" color="#111" >2,000</text>
<line x1="26.80" y1="258.90" x2="30.60" y2="258.90" stroke="#333" stroke-width="0.8" />
<text x="26.00" y="260.90" font-size="5.4" text-anchor="end" font-weight="bold" fill="#111" color="#111" >3,000</text>
<line x1="30.60" y1="335.40" x2="30.60" y2="338.00" stroke="#333" stroke-width="0.8" />
<text x="30.60" y="345.00" font-size="5.8" text-anchor="middle" font-weight="bold" fill="#111" color="#111" >0</text>
<line x1="57.10" y1="335.40" x2="57.10" y2="338.00" stroke="#333" stroke-width="0.8" />
<text x="57.10" y="345.00" font-size="5.8" text-anchor="middle" font-weight="bold" fill="#111" color="#111" >5</text>
<line x1="83.60" y1="335.40" x2="83.60" y2="338.00" stroke="#333" stroke-width="0.8" />
<text x="83.60" y="345.00" font-size="5.8" text-anchor="middle" font-weight="bold" fill="#111" color="#111" >10</text>
<line x1="110.10" y1="335.40" x2="110.10" y2="338.00" stroke="#333" stroke-width="0.8" />
<text x="110.10" y="345.00" font-size="5.8" text-anchor="middle" font-weight="bold" fill="#111" color="#111" >15</text>
<line x1="136.60" y1="335.40" x2="136.60" y2="338.00" stroke="#333" stroke-width="0.8" />
<text x="136.60" y="345.00" font-size="5.8" text-anchor="middle" font-weight="bold" fill="#111" color="#111" >20</text>
<text x="0" y="0" font-size="6.4" text-anchor="middle" font-weight="normal" fill="#111" color="#111" transform="translate(9.00,297.20) rotate(-90)">Tumor volume (mm<tspan font-size="4.4" dy="-2.2">3</tspan><tspan dy="2.2">)</tspan></text>
<text x="79.60" y="253.20" font-size="6.2" text-anchor="middle" font-weight="bold" fill="#111" color="#111" >Colon cancer tumors</text>
<line x1="33.00" y1="336.00" x2="33.00" y2="346.00" stroke="#f4a070" stroke-width="1.0" />
<line x1="46.75" y1="336.00" x2="46.75" y2="346.00" stroke="#f4a070" stroke-width="1.0" />
<line x1="62.50" y1="336.00" x2="62.50" y2="346.00" stroke="#f4a070" stroke-width="1.0" />
<text x="46.20" y="353.60" font-size="6.4" text-anchor="middle" font-weight="bold" fill="#f09848" color="#f09848" >CPI</text>
<text x="84.40" y="353.30" font-size="5.8" text-anchor="middle" font-weight="bold" fill="#111" color="#111" >Days on therapy</text>
<text x="36.90" y="303.80" font-size="6.8" text-anchor="middle" font-weight="bold" fill="#111" color="#111" textLength="10.8" lengthAdjust="spacingAndGlyphs">PET</text>
<line x1="32.60" y1="305.50" x2="32.60" y2="318.00" stroke="#111" stroke-width="1.0" />
<polygon points="30.20,316.00 35.00,316.00 32.60,321.00" fill="#111"/>
<text x="56.90" y="303.80" font-size="6.8" text-anchor="middle" font-weight="bold" fill="#111" color="#111" textLength="10.8" lengthAdjust="spacingAndGlyphs">PET</text>
<line x1="57.00" y1="305.50" x2="57.00" y2="318.00" stroke="#111" stroke-width="1.0" />
<polygon points="54.60,316.00 59.40,316.00 57.00,321.00" fill="#111"/>
<polyline points="30.60,332.00 46.50,331.00 57.10,329.00 62.40,329.00 67.70,330.20 73.00,330.00 78.30,329.00 83.60,329.00 88.90,329.00 99.50,328.60 115.40,322.20 131.30,319.40" stroke="#e84a4a" stroke-width="0.9" fill="none" />
<line x1="30.60" y1="330.80" x2="30.60" y2="333.20" stroke="#e02828" stroke-width="0.6" />
<line x1="29.40" y1="330.80" x2="31.80" y2="330.80" stroke="#e02828" stroke-width="0.6" />
<line x1="29.40" y1="333.20" x2="31.80" y2="333.20" stroke="#e02828" stroke-width="0.6" />
<circle cx="30.60" cy="332.00" r="1.6" fill="#e02828"/>
<line x1="46.50" y1="329.80" x2="46.50" y2="332.20" stroke="#e02828" stroke-width="0.6" />
<line x1="45.30" y1="329.80" x2="47.70" y2="329.80" stroke="#e02828" stroke-width="0.6" />
<line x1="45.30" y1="332.20" x2="47.70" y2="332.20" stroke="#e02828" stroke-width="0.6" />
<circle cx="46.50" cy="331.00" r="1.6" fill="#e02828"/>
<line x1="57.10" y1="327.50" x2="57.10" y2="330.50" stroke="#e02828" stroke-width="0.6" />
<line x1="55.90" y1="327.50" x2="58.30" y2="327.50" stroke="#e02828" stroke-width="0.6" />
<line x1="55.90" y1="330.50" x2="58.30" y2="330.50" stroke="#e02828" stroke-width="0.6" />
<circle cx="57.10" cy="329.00" r="1.6" fill="#e02828"/>
<line x1="62.40" y1="327.00" x2="62.40" y2="331.00" stroke="#e02828" stroke-width="0.6" />
<line x1="61.20" y1="327.00" x2="63.60" y2="327.00" stroke="#e02828" stroke-width="0.6" />
<line x1="61.20" y1="331.00" x2="63.60" y2="331.00" stroke="#e02828" stroke-width="0.6" />
<circle cx="62.40" cy="329.00" r="1.6" fill="#e02828"/>
<line x1="67.70" y1="328.20" x2="67.70" y2="332.20" stroke="#e02828" stroke-width="0.6" />
<line x1="66.50" y1="328.20" x2="68.90" y2="328.20" stroke="#e02828" stroke-width="0.6" />
<line x1="66.50" y1="332.20" x2="68.90" y2="332.20" stroke="#e02828" stroke-width="0.6" />
<circle cx="67.70" cy="330.20" r="1.6" fill="#e02828"/>
<line x1="73.00" y1="328.00" x2="73.00" y2="332.00" stroke="#e02828" stroke-width="0.6" />
<line x1="71.80" y1="328.00" x2="74.20" y2="328.00" stroke="#e02828" stroke-width="0.6" />
<line x1="71.80" y1="332.00" x2="74.20" y2="332.00" stroke="#e02828" stroke-width="0.6" />
<circle cx="73.00" cy="330.00" r="1.6" fill="#e02828"/>
<line x1="78.30" y1="326.80" x2="78.30" y2="331.20" stroke="#e02828" stroke-width="0.6" />
<line x1="77.10" y1="326.80" x2="79.50" y2="326.80" stroke="#e02828" stroke-width="0.6" />
<line x1="77.10" y1="331.20" x2="79.50" y2="331.20" stroke="#e02828" stroke-width="0.6" />
<circle cx="78.30" cy="329.00" r="1.6" fill="#e02828"/>
<line x1="83.60" y1="326.80" x2="83.60" y2="331.20" stroke="#e02828" stroke-width="0.6" />
<line x1="82.40" y1="326.80" x2="84.80" y2="326.80" stroke="#e02828" stroke-width="0.6" />
<line x1="82.40" y1="331.20" x2="84.80" y2="331.20" stroke="#e02828" stroke-width="0.6" />
<circle cx="83.60" cy="329.00" r="1.6" fill="#e02828"/>
<line x1="88.90" y1="326.80" x2="88.90" y2="331.20" stroke="#e02828" stroke-width="0.6" />
<line x1="87.70" y1="326.80" x2="90.10" y2="326.80" stroke="#e02828" stroke-width="0.6" />
<line x1="87.70" y1="331.20" x2="90.10" y2="331.20" stroke="#e02828" stroke-width="0.6" />
<circle cx="88.90" cy="329.00" r="1.6" fill="#e02828"/>
<line x1="99.50" y1="326.10" x2="99.50" y2="331.10" stroke="#e02828" stroke-width="0.6" />
<line x1="98.30" y1="326.10" x2="100.70" y2="326.10" stroke="#e02828" stroke-width="0.6" />
<line x1="98.30" y1="331.10" x2="100.70" y2="331.10" stroke="#e02828" stroke-width="0.6" />
<circle cx="99.50" cy="328.60" r="1.6" fill="#e02828"/>
<line x1="115.40" y1="317.20" x2="115.40" y2="327.20" stroke="#e02828" stroke-width="0.6" />
<line x1="114.20" y1="317.20" x2="116.60" y2="317.20" stroke="#e02828" stroke-width="0.6" />
<line x1="114.20" y1="327.20" x2="116.60" y2="327.20" stroke="#e02828" stroke-width="0.6" />
<circle cx="115.40" cy="322.20" r="1.6" fill="#e02828"/>
<line x1="131.30" y1="313.60" x2="131.30" y2="325.20" stroke="#e02828" stroke-width="0.6" />
<line x1="130.10" y1="313.60" x2="132.50" y2="313.60" stroke="#e02828" stroke-width="0.6" />
<line x1="130.10" y1="325.20" x2="132.50" y2="325.20" stroke="#e02828" stroke-width="0.6" />
<circle cx="131.30" cy="319.40" r="1.6" fill="#e02828"/>
<polyline points="30.60,332.10 46.50,328.60 57.10,326.70 62.40,326.30 67.70,323.20 73.00,323.20 78.30,322.40 83.60,319.90 88.90,317.00 99.50,306.90 115.40,296.70 131.30,280.60" stroke="#3a3ae2" stroke-width="0.9" fill="none" />
<line x1="30.60" y1="330.90" x2="30.60" y2="333.30" stroke="#1c1cd8" stroke-width="0.7" />
<line x1="29.20" y1="330.90" x2="32.00" y2="330.90" stroke="#1c1cd8" stroke-width="0.7" />
<line x1="29.20" y1="333.30" x2="32.00" y2="333.30" stroke="#1c1cd8" stroke-width="0.7" />
<rect x="28.90" y="330.40" width="3.40" height="3.40" fill="#1c1cd8" />
<line x1="46.50" y1="327.10" x2="46.50" y2="330.10" stroke="#1c1cd8" stroke-width="0.7" />
<line x1="45.10" y1="327.10" x2="47.90" y2="327.10" stroke="#1c1cd8" stroke-width="0.7" />
<line x1="45.10" y1="330.10" x2="47.90" y2="330.10" stroke="#1c1cd8" stroke-width="0.7" />
<rect x="44.80" y="326.90" width="3.40" height="3.40" fill="#1c1cd8" />
<line x1="57.10" y1="324.70" x2="57.10" y2="328.70" stroke="#1c1cd8" stroke-width="0.7" />
<line x1="55.70" y1="324.70" x2="58.50" y2="324.70" stroke="#1c1cd8" stroke-width="0.7" />
<line x1="55.70" y1="328.70" x2="58.50" y2="328.70" stroke="#1c1cd8" stroke-width="0.7" />
<rect x="55.40" y="325.00" width="3.40" height="3.40" fill="#1c1cd8" />
<line x1="62.40" y1="323.30" x2="62.40" y2="329.30" stroke="#1c1cd8" stroke-width="0.7" />
<line x1="61.00" y1="323.30" x2="63.80" y2="323.30" stroke="#1c1cd8" stroke-width="0.7" />
<line x1="61.00" y1="329.30" x2="63.80" y2="329.30" stroke="#1c1cd8" stroke-width="0.7" />
<rect x="60.70" y="324.60" width="3.40" height="3.40" fill="#1c1cd8" />
<line x1="67.70" y1="319.20" x2="67.70" y2="327.20" stroke="#1c1cd8" stroke-width="0.7" />
<line x1="66.30" y1="319.20" x2="69.10" y2="319.20" stroke="#1c1cd8" stroke-width="0.7" />
<line x1="66.30" y1="327.20" x2="69.10" y2="327.20" stroke="#1c1cd8" stroke-width="0.7" />
<rect x="66.00" y="321.50" width="3.40" height="3.40" fill="#1c1cd8" />
<line x1="73.00" y1="319.20" x2="73.00" y2="327.20" stroke="#1c1cd8" stroke-width="0.7" />
<line x1="71.60" y1="319.20" x2="74.40" y2="319.20" stroke="#1c1cd8" stroke-width="0.7" />
<line x1="71.60" y1="327.20" x2="74.40" y2="327.20" stroke="#1c1cd8" stroke-width="0.7" />
<rect x="71.30" y="321.50" width="3.40" height="3.40" fill="#1c1cd8" />
<line x1="78.30" y1="317.90" x2="78.30" y2="326.90" stroke="#1c1cd8" stroke-width="0.7" />
<line x1="76.90" y1="317.90" x2="79.70" y2="317.90" stroke="#1c1cd8" stroke-width="0.7" />
<line x1="76.90" y1="326.90" x2="79.70" y2="326.90" stroke="#1c1cd8" stroke-width="0.7" />
<rect x="76.60" y="320.70" width="3.40" height="3.40" fill="#1c1cd8" />
<line x1="83.60" y1="314.90" x2="83.60" y2="324.90" stroke="#1c1cd8" stroke-width="0.7" />
<line x1="82.20" y1="314.90" x2="85.00" y2="314.90" stroke="#1c1cd8" stroke-width="0.7" />
<line x1="82.20" y1="324.90" x2="85.00" y2="324.90" stroke="#1c1cd8" stroke-width="0.7" />
<rect x="81.90" y="318.20" width="3.40" height="3.40" fill="#1c1cd8" />
<line x1="88.90" y1="311.00" x2="88.90" y2="323.00" stroke="#1c1cd8" stroke-width="0.7" />
<line x1="87.50" y1="311.00" x2="90.30" y2="311.00" stroke="#1c1cd8" stroke-width="0.7" />
<line x1="87.50" y1="323.00" x2="90.30" y2="323.00" stroke="#1c1cd8" stroke-width="0.7" />
<rect x="87.20" y="315.30" width="3.40" height="3.40" fill="#1c1cd8" />
<line x1="99.50" y1="300.70" x2="99.50" y2="313.10" stroke="#1c1cd8" stroke-width="0.7" />
<line x1="98.10" y1="300.70" x2="100.90" y2="300.70" stroke="#1c1cd8" stroke-width="0.7" />
<line x1="98.10" y1="313.10" x2="100.90" y2="313.10" stroke="#1c1cd8" stroke-width="0.7" />
<rect x="97.80" y="305.20" width="3.40" height="3.40" fill="#1c1cd8" />
<line x1="115.40" y1="285.70" x2="115.40" y2="307.70" stroke="#1c1cd8" stroke-width="0.7" />
<line x1="114.00" y1="285.70" x2="116.80" y2="285.70" stroke="#1c1cd8" stroke-width="0.7" />
<line x1="114.00" y1="307.70" x2="116.80" y2="307.70" stroke="#1c1cd8" stroke-width="0.7" />
<rect x="113.70" y="295.00" width="3.40" height="3.40" fill="#1c1cd8" />
<line x1="131.30" y1="261.40" x2="131.30" y2="299.80" stroke="#1c1cd8" stroke-width="0.7" />
<line x1="129.90" y1="261.40" x2="132.70" y2="261.40" stroke="#1c1cd8" stroke-width="0.7" />
<line x1="129.90" y1="299.80" x2="132.70" y2="299.80" stroke="#1c1cd8" stroke-width="0.7" />
<rect x="129.60" y="278.90" width="3.40" height="3.40" fill="#1c1cd8" />
<polygon points="67.70,312.90 68.31,314.36 69.89,314.49 68.68,315.52 69.05,317.06 67.70,316.24 66.35,317.06 66.72,315.52 65.51,314.49 67.09,314.36" fill="#111" stroke="#111" stroke-width="0.3"/>
<polygon points="99.40,293.10 100.01,294.56 101.59,294.69 100.38,295.72 100.75,297.26 99.40,296.44 98.05,297.26 98.42,295.72 97.21,294.69 98.79,294.56" fill="#111" stroke="#111" stroke-width="0.3"/>
<polygon points="115.30,277.90 115.91,279.36 117.49,279.49 116.28,280.52 116.65,282.06 115.30,281.24 113.95,282.06 114.32,280.52 113.11,279.49 114.69,279.36" fill="#111" stroke="#111" stroke-width="0.3"/>
<polygon points="130.80,253.50 131.41,254.96 132.99,255.09 131.78,256.12 132.15,257.66 130.80,256.84 129.45,257.66 129.82,256.12 128.61,255.09 130.19,254.96" fill="#111" stroke="#111" stroke-width="0.3"/>
<line x1="135.80" y1="269.70" x2="143.60" y2="269.70" stroke="#3a3ae2" stroke-width="0.9" />
<rect x="138.10" y="268.10" width="3.20" height="3.20" fill="#1c1cd8" />
<text x="147.60" y="271.70" font-size="5.8" text-anchor="start" font-weight="normal" fill="#111" color="#111" >Hypoxic</text>
<line x1="135.80" y1="280.50" x2="143.60" y2="280.50" stroke="#e84a4a" stroke-width="0.9" />
<circle cx="139.70" cy="280.50" r="1.6" fill="#e02828"/>
<text x="147.60" y="282.50" font-size="5.8" text-anchor="start" font-weight="normal" fill="#111" color="#111" >Normoxic</text>
<line x1="201.70" y1="257.30" x2="201.70" y2="320.20" stroke="#444" stroke-width="0.8" />
<line x1="201.70" y1="320.20" x2="302.00" y2="320.20" stroke="#444" stroke-width="0.8" />
<line x1="199.30" y1="320.20" x2="201.70" y2="320.20" stroke="#444" stroke-width="0.7" />
<text x="198.50" y="321.80" font-size="4.6" text-anchor="end" font-weight="bold" fill="#111" color="#111" >0</text>
<line x1="199.30" y1="291.50" x2="201.70" y2="291.50" stroke="#444" stroke-width="0.7" />
<text x="198.50" y="293.10" font-size="4.6" text-anchor="end" font-weight="bold" fill="#111" color="#111" >50</text>
<line x1="199.30" y1="262.80" x2="201.70" y2="262.80" stroke="#444" stroke-width="0.7" />
<text x="198.50" y="264.40" font-size="4.6" text-anchor="end" font-weight="bold" fill="#111" color="#111" >100</text>
<line x1="200.50" y1="320.20" x2="201.70" y2="320.20" stroke="#444" stroke-width="0.5" />
<line x1="200.50" y1="317.33" x2="201.70" y2="317.33" stroke="#444" stroke-width="0.5" />
<line x1="200.50" y1="314.46" x2="201.70" y2="314.46" stroke="#444" stroke-width="0.5" />
<line x1="200.50" y1="311.59" x2="201.70" y2="311.59" stroke="#444" stroke-width="0.5" />
<line x1="200.50" y1="308.72" x2="201.70" y2="308.72" stroke="#444" stroke-width="0.5" />
<line x1="200.50" y1="305.85" x2="201.70" y2="305.85" stroke="#444" stroke-width="0.5" />
<line x1="200.50" y1="302.98" x2="201.70" y2="302.98" stroke="#444" stroke-width="0.5" />
<line x1="200.50" y1="300.11" x2="201.70" y2="300.11" stroke="#444" stroke-width="0.5" />
<line x1="200.50" y1="297.24" x2="201.70" y2="297.24" stroke="#444" stroke-width="0.5" />
<line x1="200.50" y1="294.37" x2="201.70" y2="294.37" stroke="#444" stroke-width="0.5" />
<line x1="200.50" y1="291.50" x2="201.70" y2="291.50" stroke="#444" stroke-width="0.5" />
<line x1="200.50" y1="288.63" x2="201.70" y2="288.63" stroke="#444" stroke-width="0.5" />
<line x1="200.50" y1="285.76" x2="201.70" y2="285.76" stroke="#444" stroke-width="0.5" />
<line x1="200.50" y1="282.89" x2="201.70" y2="282.89" stroke="#444" stroke-width="0.5" />
<line x1="200.50" y1="280.02" x2="201.70" y2="280.02" stroke="#444" stroke-width="0.5" />
<line x1="200.50" y1="277.15" x2="201.70" y2="277.15" stroke="#444" stroke-width="0.5" />
<line x1="200.50" y1="274.28" x2="201.70" y2="274.28" stroke="#444" stroke-width="0.5" />
<line x1="200.50" y1="271.41" x2="201.70" y2="271.41" stroke="#444" stroke-width="0.5" />
<line x1="200.50" y1="268.54" x2="201.70" y2="268.54" stroke="#444" stroke-width="0.5" />
<line x1="200.50" y1="265.67" x2="201.70" y2="265.67" stroke="#444" stroke-width="0.5" />
<line x1="200.50" y1="262.80" x2="201.70" y2="262.80" stroke="#444" stroke-width="0.5" />
<line x1="200.50" y1="259.93" x2="201.70" y2="259.93" stroke="#444" stroke-width="0.5" />
<line x1="201.70" y1="320.20" x2="201.70" y2="321.50" stroke="#444" stroke-width="0.5" />
<line x1="205.03" y1="320.20" x2="205.03" y2="321.50" stroke="#444" stroke-width="0.5" />
<line x1="208.36" y1="320.20" x2="208.36" y2="321.50" stroke="#444" stroke-width="0.5" />
<line x1="211.69" y1="320.20" x2="211.69" y2="321.50" stroke="#444" stroke-width="0.5" />
<line x1="215.02" y1="320.20" x2="215.02" y2="321.50" stroke="#444" stroke-width="0.5" />
<line x1="218.35" y1="320.20" x2="218.35" y2="321.50" stroke="#444" stroke-width="0.5" />
<line x1="221.68" y1="320.20" x2="221.68" y2="321.50" stroke="#444" stroke-width="0.5" />
<line x1="225.01" y1="320.20" x2="225.01" y2="321.50" stroke="#444" stroke-width="0.5" />
<line x1="228.34" y1="320.20" x2="228.34" y2="321.50" stroke="#444" stroke-width="0.5" />
<line x1="231.67" y1="320.20" x2="231.67" y2="321.50" stroke="#444" stroke-width="0.5" />
<line x1="235.00" y1="320.20" x2="235.00" y2="321.50" stroke="#444" stroke-width="0.5" />
<line x1="238.33" y1="320.20" x2="238.33" y2="321.50" stroke="#444" stroke-width="0.5" />
<line x1="241.66" y1="320.20" x2="241.66" y2="321.50" stroke="#444" stroke-width="0.5" />
<line x1="244.99" y1="320.20" x2="244.99" y2="321.50" stroke="#444" stroke-width="0.5" />
<line x1="248.32" y1="320.20" x2="248.32" y2="321.50" stroke="#444" stroke-width="0.5" />
<line x1="251.65" y1="320.20" x2="251.65" y2="321.50" stroke="#444" stroke-width="0.5" />
<line x1="254.98" y1="320.20" x2="254.98" y2="321.50" stroke="#444" stroke-width="0.5" />
<line x1="258.31" y1="320.20" x2="258.31" y2="321.50" stroke="#444" stroke-width="0.5" />
<line x1="261.64" y1="320.20" x2="261.64" y2="321.50" stroke="#444" stroke-width="0.5" />
<line x1="264.97" y1="320.20" x2="264.97" y2="321.50" stroke="#444" stroke-width="0.5" />
<line x1="268.30" y1="320.20" x2="268.30" y2="321.50" stroke="#444" stroke-width="0.5" />
<line x1="271.63" y1="320.20" x2="271.63" y2="321.50" stroke="#444" stroke-width="0.5" />
<line x1="274.96" y1="320.20" x2="274.96" y2="321.50" stroke="#444" stroke-width="0.5" />
<line x1="278.29" y1="320.20" x2="278.29" y2="321.50" stroke="#444" stroke-width="0.5" />
<line x1="281.62" y1="320.20" x2="281.62" y2="321.50" stroke="#444" stroke-width="0.5" />
<line x1="284.95" y1="320.20" x2="284.95" y2="321.50" stroke="#444" stroke-width="0.5" />
<line x1="288.28" y1="320.20" x2="288.28" y2="321.50" stroke="#444" stroke-width="0.5" />
<line x1="291.61" y1="320.20" x2="291.61" y2="321.50" stroke="#444" stroke-width="0.5" />
<line x1="294.94" y1="320.20" x2="294.94" y2="321.50" stroke="#444" stroke-width="0.5" />
<line x1="298.27" y1="320.20" x2="298.27" y2="321.50" stroke="#444" stroke-width="0.5" />
<line x1="301.60" y1="320.20" x2="301.60" y2="321.50" stroke="#444" stroke-width="0.5" />
<line x1="201.70" y1="320.20" x2="201.70" y2="322.60" stroke="#444" stroke-width="0.7" />
<text x="201.70" y="327.00" font-size="4.6" text-anchor="middle" font-weight="bold" fill="#111" color="#111" >0</text>
<line x1="235.00" y1="320.20" x2="235.00" y2="322.60" stroke="#444" stroke-width="0.7" />
<text x="235.00" y="327.00" font-size="4.6" text-anchor="middle" font-weight="bold" fill="#111" color="#111" >10</text>
<line x1="268.30" y1="320.20" x2="268.30" y2="322.60" stroke="#444" stroke-width="0.7" />
<text x="268.30" y="327.00" font-size="4.6" text-anchor="middle" font-weight="bold" fill="#111" color="#111" >20</text>
<line x1="301.60" y1="320.20" x2="301.60" y2="322.60" stroke="#444" stroke-width="0.7" />
<text x="301.60" y="327.00" font-size="4.6" text-anchor="middle" font-weight="bold" fill="#111" color="#111" >30</text>
<text x="251.50" y="254.40" font-size="5.35" text-anchor="middle" font-weight="bold" fill="#111" color="#111" >TNBC Tumors</text>
<text x="0" y="0" font-size="5.3" text-anchor="middle" font-weight="bold" fill="#111" color="#111" transform="translate(187.00,289.20) rotate(-90)">Probability of survival</text>
<text x="254.20" y="334.00" font-size="5.35" text-anchor="middle" font-weight="bold" fill="#111" color="#111" >Days on Therapy</text>
<polyline points="201.70,262.70 231.67,262.70 231.67,267.30 248.32,267.30 248.32,280.52 268.30,280.52" stroke="#e87474" stroke-width="1.05" fill="none" />
<polyline points="201.70,262.70 221.68,262.70 221.68,269.60 231.67,269.60 231.67,298.35 248.32,298.35 248.32,313.30 268.30,313.30" stroke="#5a5ad8" stroke-width="1.05" fill="none" />
<line x1="266.80" y1="280.52" x2="269.80" y2="280.52" stroke="#e87474" stroke-width="0.7" />
<line x1="266.80" y1="313.30" x2="269.80" y2="313.30" stroke="#5a5ad8" stroke-width="0.7" />
<polyline points="274.20,280.40 278.20,280.40 278.20,313.40 274.20,313.40" stroke="#111" stroke-width="1.3" fill="none" />
<circle cx="283.60" cy="297.00" r="1.75" fill="#111"/>
<circle cx="288.00" cy="297.00" r="1.75" fill="#111"/>
<line x1="284.60" y1="272.30" x2="292.40" y2="272.30" stroke="#e87474" stroke-width="0.9" />
<text x="296.70" y="274.30" font-size="5.6" text-anchor="start" font-weight="normal" fill="#111" color="#111" >Normoxic</text>
<line x1="284.60" y1="281.30" x2="292.40" y2="281.30" stroke="#5a5ad8" stroke-width="0.9" />
<text x="296.70" y="283.30" font-size="5.6" text-anchor="start" font-weight="normal" fill="#111" color="#111" >Hypoxic</text>
<line x1="177.50" y1="336.80" x2="326.00" y2="336.80" stroke="#b0b0b0" stroke-width="0.7" />
<line x1="177.50" y1="344.60" x2="326.00" y2="344.60" stroke="#b0b0b0" stroke-width="0.7" />
<line x1="177.50" y1="351.40" x2="326.00" y2="351.40" stroke="#b0b0b0" stroke-width="0.7" />
<line x1="177.50" y1="357.90" x2="326.00" y2="357.90" stroke="#b0b0b0" stroke-width="0.7" />
<line x1="177.50" y1="336.80" x2="177.50" y2="357.90" stroke="#c4c4c4" stroke-width="0.6" />
<line x1="326.00" y1="336.80" x2="326.00" y2="357.90" stroke="#c4c4c4" stroke-width="0.6" />
<line x1="195.20" y1="336.80" x2="195.20" y2="357.90" stroke="#c4c4c4" stroke-width="0.6" />
<text x="186.35" y="342.25" font-size="4.3" text-anchor="middle" font-weight="normal" fill="#333" color="#333" style="stroke-width:0.08px">Days</text>
<text x="209.20" y="342.25" font-size="4.3" text-anchor="middle" font-weight="normal" fill="#333" color="#333" style="stroke-width:0.08px">0</text>
<text x="225.40" y="342.25" font-size="4.3" text-anchor="middle" font-weight="normal" fill="#333" color="#333" style="stroke-width:0.08px">6</text>
<text x="241.50" y="342.25" font-size="4.3" text-anchor="middle" font-weight="normal" fill="#333" color="#333" style="stroke-width:0.08px">7</text>
<text x="257.80" y="342.25" font-size="4.3" text-anchor="middle" font-weight="normal" fill="#333" color="#333" style="stroke-width:0.08px">9</text>
<text x="273.40" y="342.25" font-size="4.3" text-anchor="middle" font-weight="normal" fill="#333" color="#333" style="stroke-width:0.08px">10</text>
<text x="289.40" y="342.25" font-size="4.3" text-anchor="middle" font-weight="normal" fill="#333" color="#333" style="stroke-width:0.08px">13</text>
<text x="305.70" y="342.25" font-size="4.3" text-anchor="middle" font-weight="normal" fill="#333" color="#333" style="stroke-width:0.08px">16</text>
<text x="321.80" y="342.25" font-size="4.3" text-anchor="middle" font-weight="normal" fill="#333" color="#333" style="stroke-width:0.08px">19</text>
<text x="186.35" y="349.55" font-size="4.3" text-anchor="middle" font-weight="normal" fill="#333" color="#333" style="stroke-width:0.08px" textLength="15.30" lengthAdjust="spacingAndGlyphs">Normoxic</text>
<text x="209.20" y="349.55" font-size="4.3" text-anchor="middle" font-weight="normal" fill="#333" color="#333" style="stroke-width:0.08px">19</text>
<text x="225.40" y="349.55" font-size="4.3" text-anchor="middle" font-weight="normal" fill="#333" color="#333" style="stroke-width:0.08px">19</text>
<text x="241.50" y="349.55" font-size="4.3" text-anchor="middle" font-weight="normal" fill="#333" color="#333" style="stroke-width:0.08px">19</text>
<text x="257.80" y="349.55" font-size="4.3" text-anchor="middle" font-weight="normal" fill="#333" color="#333" style="stroke-width:0.08px">19</text>
<text x="273.40" y="349.55" font-size="4.3" text-anchor="middle" font-weight="normal" fill="#333" color="#333" style="stroke-width:0.08px">19</text>
<text x="289.40" y="349.55" font-size="4.3" text-anchor="middle" font-weight="normal" fill="#333" color="#333" style="stroke-width:0.08px">19</text>
<text x="305.70" y="349.55" font-size="4.3" text-anchor="middle" font-weight="normal" fill="#333" color="#333" style="stroke-width:0.08px">19</text>
<text x="321.80" y="349.55" font-size="4.3" text-anchor="middle" font-weight="normal" fill="#333" color="#333" style="stroke-width:0.08px">17</text>
<text x="186.35" y="356.20" font-size="4.3" text-anchor="middle" font-weight="normal" fill="#333" color="#333" style="stroke-width:0.08px">Hypoxic</text>
<text x="209.20" y="356.20" font-size="4.3" text-anchor="middle" font-weight="normal" fill="#333" color="#333" style="stroke-width:0.08px">15</text>
<text x="225.40" y="356.20" font-size="4.3" text-anchor="middle" font-weight="normal" fill="#333" color="#333" style="stroke-width:0.08px">15</text>
<text x="241.50" y="356.20" font-size="4.3" text-anchor="middle" font-weight="normal" fill="#333" color="#333" style="stroke-width:0.08px">10</text>
<text x="257.80" y="356.20" font-size="4.3" text-anchor="middle" font-weight="normal" fill="#333" color="#333" style="stroke-width:0.08px">12</text>
<text x="273.40" y="356.20" font-size="4.3" text-anchor="middle" font-weight="normal" fill="#333" color="#333" style="stroke-width:0.08px">17</text>
<text x="289.40" y="356.20" font-size="4.3" text-anchor="middle" font-weight="normal" fill="#333" color="#333" style="stroke-width:0.08px">15</text>
<text x="305.70" y="356.20" font-size="4.3" text-anchor="middle" font-weight="normal" fill="#333" color="#333" style="stroke-width:0.08px">15</text>
<text x="321.80" y="356.20" font-size="4.3" text-anchor="middle" font-weight="normal" fill="#333" color="#333" style="stroke-width:0.08px">9</text>
<line x1="371.50" y1="261.50" x2="371.50" y2="320.60" stroke="#444" stroke-width="0.8" />
<line x1="371.50" y1="320.60" x2="464.00" y2="320.60" stroke="#444" stroke-width="0.8" />
<line x1="369.10" y1="320.60" x2="371.50" y2="320.60" stroke="#444" stroke-width="0.7" />
<text x="368.30" y="322.20" font-size="4.6" text-anchor="end" font-weight="bold" fill="#111" color="#111" >0</text>
<line x1="369.10" y1="293.80" x2="371.50" y2="293.80" stroke="#444" stroke-width="0.7" />
<text x="368.30" y="295.40" font-size="4.6" text-anchor="end" font-weight="bold" fill="#111" color="#111" >50</text>
<line x1="369.10" y1="267.00" x2="371.50" y2="267.00" stroke="#444" stroke-width="0.7" />
<text x="368.30" y="268.60" font-size="4.6" text-anchor="end" font-weight="bold" fill="#111" color="#111" >100</text>
<line x1="370.30" y1="320.60" x2="371.50" y2="320.60" stroke="#444" stroke-width="0.5" />
<line x1="370.30" y1="317.92" x2="371.50" y2="317.92" stroke="#444" stroke-width="0.5" />
<line x1="370.30" y1="315.24" x2="371.50" y2="315.24" stroke="#444" stroke-width="0.5" />
<line x1="370.30" y1="312.56" x2="371.50" y2="312.56" stroke="#444" stroke-width="0.5" />
<line x1="370.30" y1="309.88" x2="371.50" y2="309.88" stroke="#444" stroke-width="0.5" />
<line x1="370.30" y1="307.20" x2="371.50" y2="307.20" stroke="#444" stroke-width="0.5" />
<line x1="370.30" y1="304.52" x2="371.50" y2="304.52" stroke="#444" stroke-width="0.5" />
<line x1="370.30" y1="301.84" x2="371.50" y2="301.84" stroke="#444" stroke-width="0.5" />
<line x1="370.30" y1="299.16" x2="371.50" y2="299.16" stroke="#444" stroke-width="0.5" />
<line x1="370.30" y1="296.48" x2="371.50" y2="296.48" stroke="#444" stroke-width="0.5" />
<line x1="370.30" y1="293.80" x2="371.50" y2="293.80" stroke="#444" stroke-width="0.5" />
<line x1="370.30" y1="291.12" x2="371.50" y2="291.12" stroke="#444" stroke-width="0.5" />
<line x1="370.30" y1="288.44" x2="371.50" y2="288.44" stroke="#444" stroke-width="0.5" />
<line x1="370.30" y1="285.76" x2="371.50" y2="285.76" stroke="#444" stroke-width="0.5" />
<line x1="370.30" y1="283.08" x2="371.50" y2="283.08" stroke="#444" stroke-width="0.5" />
<line x1="370.30" y1="280.40" x2="371.50" y2="280.40" stroke="#444" stroke-width="0.5" />
<line x1="370.30" y1="277.72" x2="371.50" y2="277.72" stroke="#444" stroke-width="0.5" />
<line x1="370.30" y1="275.04" x2="371.50" y2="275.04" stroke="#444" stroke-width="0.5" />
<line x1="370.30" y1="272.36" x2="371.50" y2="272.36" stroke="#444" stroke-width="0.5" />
<line x1="370.30" y1="269.68" x2="371.50" y2="269.68" stroke="#444" stroke-width="0.5" />
<line x1="370.30" y1="267.00" x2="371.50" y2="267.00" stroke="#444" stroke-width="0.5" />
<line x1="370.30" y1="264.32" x2="371.50" y2="264.32" stroke="#444" stroke-width="0.5" />
<line x1="371.50" y1="320.60" x2="371.50" y2="321.90" stroke="#444" stroke-width="0.5" />
<line x1="374.57" y1="320.60" x2="374.57" y2="321.90" stroke="#444" stroke-width="0.5" />
<line x1="377.64" y1="320.60" x2="377.64" y2="321.90" stroke="#444" stroke-width="0.5" />
<line x1="380.71" y1="320.60" x2="380.71" y2="321.90" stroke="#444" stroke-width="0.5" />
<line x1="383.78" y1="320.60" x2="383.78" y2="321.90" stroke="#444" stroke-width="0.5" />
<line x1="386.85" y1="320.60" x2="386.85" y2="321.90" stroke="#444" stroke-width="0.5" />
<line x1="389.92" y1="320.60" x2="389.92" y2="321.90" stroke="#444" stroke-width="0.5" />
<line x1="392.99" y1="320.60" x2="392.99" y2="321.90" stroke="#444" stroke-width="0.5" />
<line x1="396.06" y1="320.60" x2="396.06" y2="321.90" stroke="#444" stroke-width="0.5" />
<line x1="399.13" y1="320.60" x2="399.13" y2="321.90" stroke="#444" stroke-width="0.5" />
<line x1="402.20" y1="320.60" x2="402.20" y2="321.90" stroke="#444" stroke-width="0.5" />
<line x1="405.27" y1="320.60" x2="405.27" y2="321.90" stroke="#444" stroke-width="0.5" />
<line x1="408.34" y1="320.60" x2="408.34" y2="321.90" stroke="#444" stroke-width="0.5" />
<line x1="411.41" y1="320.60" x2="411.41" y2="321.90" stroke="#444" stroke-width="0.5" />
<line x1="414.48" y1="320.60" x2="414.48" y2="321.90" stroke="#444" stroke-width="0.5" />
<line x1="417.55" y1="320.60" x2="417.55" y2="321.90" stroke="#444" stroke-width="0.5" />
<line x1="420.62" y1="320.60" x2="420.62" y2="321.90" stroke="#444" stroke-width="0.5" />
<line x1="423.69" y1="320.60" x2="423.69" y2="321.90" stroke="#444" stroke-width="0.5" />
<line x1="426.76" y1="320.60" x2="426.76" y2="321.90" stroke="#444" stroke-width="0.5" />
<line x1="429.83" y1="320.60" x2="429.83" y2="321.90" stroke="#444" stroke-width="0.5" />
<line x1="432.90" y1="320.60" x2="432.90" y2="321.90" stroke="#444" stroke-width="0.5" />
<line x1="435.97" y1="320.60" x2="435.97" y2="321.90" stroke="#444" stroke-width="0.5" />
<line x1="439.04" y1="320.60" x2="439.04" y2="321.90" stroke="#444" stroke-width="0.5" />
<line x1="442.11" y1="320.60" x2="442.11" y2="321.90" stroke="#444" stroke-width="0.5" />
<line x1="445.18" y1="320.60" x2="445.18" y2="321.90" stroke="#444" stroke-width="0.5" />
<line x1="448.25" y1="320.60" x2="448.25" y2="321.90" stroke="#444" stroke-width="0.5" />
<line x1="451.32" y1="320.60" x2="451.32" y2="321.90" stroke="#444" stroke-width="0.5" />
<line x1="454.39" y1="320.60" x2="454.39" y2="321.90" stroke="#444" stroke-width="0.5" />
<line x1="457.46" y1="320.60" x2="457.46" y2="321.90" stroke="#444" stroke-width="0.5" />
<line x1="460.53" y1="320.60" x2="460.53" y2="321.90" stroke="#444" stroke-width="0.5" />
<line x1="463.60" y1="320.60" x2="463.60" y2="321.90" stroke="#444" stroke-width="0.5" />
<line x1="371.50" y1="320.60" x2="371.50" y2="323.00" stroke="#444" stroke-width="0.7" />
<text x="371.50" y="327.40" font-size="4.6" text-anchor="middle" font-weight="bold" fill="#111" color="#111" >0</text>
<line x1="402.20" y1="320.60" x2="402.20" y2="323.00" stroke="#444" stroke-width="0.7" />
<text x="402.20" y="327.40" font-size="4.6" text-anchor="middle" font-weight="bold" fill="#111" color="#111" >10</text>
<line x1="432.90" y1="320.60" x2="432.90" y2="323.00" stroke="#444" stroke-width="0.7" />
<text x="432.90" y="327.40" font-size="4.6" text-anchor="middle" font-weight="bold" fill="#111" color="#111" >20</text>
<line x1="463.60" y1="320.60" x2="463.60" y2="323.00" stroke="#444" stroke-width="0.7" />
<text x="463.60" y="327.40" font-size="4.6" text-anchor="middle" font-weight="bold" fill="#111" color="#111" >30</text>
<text x="419.20" y="253.90" font-size="6.7" text-anchor="middle" font-weight="normal" fill="#111" color="#111" style="stroke-width:0.32px">Colon cancer tumors</text>
<text x="0" y="0" font-size="5.0" text-anchor="middle" font-weight="bold" fill="#111" color="#111" transform="translate(357.20,290.50) rotate(-90)">Probability of survival</text>
<text x="420.30" y="335.20" font-size="5.6" text-anchor="middle" font-weight="bold" fill="#111" color="#111" >Time (d)</text>
<polyline points="371.50,267.00 399.13,267.00 399.13,270.21 420.62,270.21 420.62,272.88 429.83,272.88 429.83,278.24 445.18,278.24" stroke="#e87474" stroke-width="1.05" fill="none" />
<polyline points="371.50,267.00 389.92,267.00 389.92,270.21 392.99,270.21 392.99,272.88 402.20,272.88 402.20,278.24 411.41,278.24 411.41,295.89 429.83,295.89 429.83,298.03 445.18,298.03" stroke="#5a5ad8" stroke-width="1.05" fill="none" />
<polyline points="448.60,277.60 452.20,277.60 452.20,297.40 448.60,297.40" stroke="#111" stroke-width="1.3" fill="none" />
<circle cx="455.90" cy="287.60" r="1.7" fill="#111"/>
<line x1="461.00" y1="278.60" x2="468.60" y2="278.60" stroke="#e87474" stroke-width="0.9" />
<text x="470.80" y="280.50" font-size="5.0" text-anchor="start" font-weight="normal" fill="#111" color="#111" >Normoxic</text>
<line x1="461.00" y1="287.00" x2="468.60" y2="287.00" stroke="#5a5ad8" stroke-width="0.9" />
<text x="470.80" y="288.90" font-size="5.0" text-anchor="start" font-weight="normal" fill="#111" color="#111" >Hypoxic</text>
<line x1="351.50" y1="338.00" x2="497.00" y2="338.00" stroke="#a8a8a8" stroke-width="0.7" />
<line x1="351.50" y1="345.00" x2="497.00" y2="345.00" stroke="#a8a8a8" stroke-width="0.7" />
<line x1="351.50" y1="351.40" x2="497.00" y2="351.40" stroke="#a8a8a8" stroke-width="0.7" />
<line x1="351.50" y1="357.70" x2="497.00" y2="357.70" stroke="#a8a8a8" stroke-width="0.7" />
<line x1="351.50" y1="338.00" x2="351.50" y2="357.70" stroke="#bbb" stroke-width="0.6" />
<line x1="497.00" y1="338.00" x2="497.00" y2="357.70" stroke="#bbb" stroke-width="0.6" />
<line x1="376.40" y1="338.00" x2="376.40" y2="357.70" stroke="#bbb" stroke-width="0.6" />
<line x1="401.60" y1="338.00" x2="401.60" y2="357.70" stroke="#d8d8d8" stroke-width="0.5" />
<line x1="426.00" y1="338.00" x2="426.00" y2="357.70" stroke="#d8d8d8" stroke-width="0.5" />
<line x1="450.00" y1="338.00" x2="450.00" y2="357.70" stroke="#d8d8d8" stroke-width="0.5" />
<line x1="473.60" y1="338.00" x2="473.60" y2="357.70" stroke="#d8d8d8" stroke-width="0.5" />
<text x="363.95" y="343.16" font-size="4.6" text-anchor="middle" font-weight="normal" fill="#333" color="#333" style="stroke-width:0.08px">Days</text>
<text x="399.80" y="343.16" font-size="4.6" text-anchor="end" font-weight="normal" fill="#333" color="#333" style="stroke-width:0.08px">0</text>
<text x="424.20" y="343.16" font-size="4.6" text-anchor="end" font-weight="normal" fill="#333" color="#333" style="stroke-width:0.08px">6</text>
<text x="447.80" y="343.16" font-size="4.6" text-anchor="end" font-weight="normal" fill="#333" color="#333" style="stroke-width:0.08px">9</text>
<text x="472.00" y="343.16" font-size="4.6" text-anchor="end" font-weight="normal" fill="#333" color="#333" style="stroke-width:0.08px">14</text>
<text x="495.60" y="343.16" font-size="4.6" text-anchor="end" font-weight="normal" fill="#333" color="#333" style="stroke-width:0.08px">20</text>
<text x="363.95" y="349.86" font-size="4.6" text-anchor="middle" font-weight="normal" fill="#333" color="#333" style="stroke-width:0.08px">Normoxic</text>
<text x="399.80" y="349.86" font-size="4.6" text-anchor="end" font-weight="normal" fill="#333" color="#333" style="stroke-width:0.08px">13</text>
<text x="424.20" y="349.86" font-size="4.6" text-anchor="end" font-weight="normal" fill="#333" color="#333" style="stroke-width:0.08px">13</text>
<text x="447.80" y="349.86" font-size="4.6" text-anchor="end" font-weight="normal" fill="#333" color="#333" style="stroke-width:0.08px">13</text>
<text x="472.00" y="349.86" font-size="4.6" text-anchor="end" font-weight="normal" fill="#333" color="#333" style="stroke-width:0.08px">12</text>
<text x="495.60" y="349.86" font-size="4.6" text-anchor="end" font-weight="normal" fill="#333" color="#333" style="stroke-width:0.08px">9</text>
<text x="363.95" y="356.21" font-size="4.6" text-anchor="middle" font-weight="normal" fill="#333" color="#333" style="stroke-width:0.08px">Hypoxic</text>
<text x="399.80" y="356.21" font-size="4.6" text-anchor="end" font-weight="normal" fill="#333" color="#333" style="stroke-width:0.08px">8</text>
<text x="424.20" y="356.21" font-size="4.6" text-anchor="end" font-weight="normal" fill="#333" color="#333" style="stroke-width:0.08px">8</text>
<text x="447.80" y="356.21" font-size="4.6" text-anchor="end" font-weight="normal" fill="#333" color="#333" style="stroke-width:0.08px">7</text>
<text x="472.00" y="356.21" font-size="4.6" text-anchor="end" font-weight="normal" fill="#333" color="#333" style="stroke-width:0.08px">3</text>
<text x="495.60" y="356.21" font-size="4.6" text-anchor="end" font-weight="normal" fill="#333" color="#333" style="stroke-width:0.08px">1</text>
<text x="3.00" y="11.60" font-size="12.8" text-anchor="start" font-weight="bold" fill="#000" color="#000" >A</text>
<text x="195.20" y="11.70" font-size="12.8" text-anchor="start" font-weight="bold" fill="#000" color="#000" >B</text>
<text x="338.50" y="11.70" font-size="12.8" text-anchor="start" font-weight="bold" fill="#000" color="#000" >C</text>
<text x="2.70" y="142.30" font-size="12.8" text-anchor="start" font-weight="bold" fill="#000" color="#000" >D</text>
<text x="173.20" y="142.50" font-size="12.8" text-anchor="start" font-weight="bold" fill="#000" color="#000" >E</text>
<text x="337.90" y="142.50" font-size="12.8" text-anchor="start" font-weight="bold" fill="#000" color="#000" >F</text>
<text x="1.30" y="253.20" font-size="12.8" text-anchor="start" font-weight="bold" fill="#000" color="#000" >G</text>
<text x="173.50" y="253.40" font-size="12.8" text-anchor="start" font-weight="bold" fill="#000" color="#000" >H</text>
<text x="338.20" y="253.60" font-size="12.8" text-anchor="start" font-weight="bold" fill="#000" color="#000" >I</text>
</svg></body></html>
